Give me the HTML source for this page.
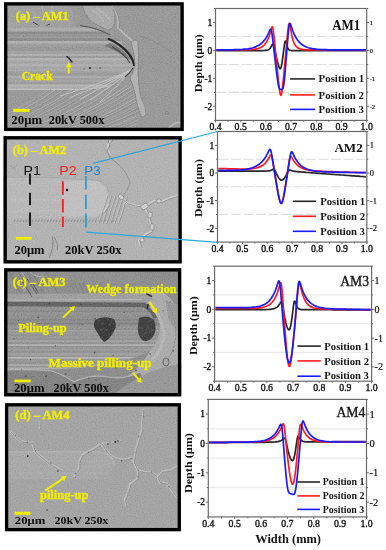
<!DOCTYPE html>
<html><head><meta charset="utf-8"><title>Scratch profiles</title>
<style>html,body{margin:0;padding:0;background:#fff;} svg{display:block;}</style>
</head><body>
<svg width="386" height="550" viewBox="0 0 386 550">
<rect width="386" height="550" fill="#fff"/>
<defs><filter id="nz" x="0" y="0" width="100%" height="100%" color-interpolation-filters="sRGB"><feTurbulence type="fractalNoise" baseFrequency="0.85" numOctaves="2" seed="7"/><feColorMatrix type="matrix" values="0.33 0.33 0.33 0 0 0.33 0.33 0.33 0 0 0.33 0.33 0.33 0 0 0 0 0 0 1"/></filter></defs>
<clipPath id="clipa"><rect x="4.0" y="2.3" width="179.7" height="128.8"/></clipPath>
<g clip-path="url(#clipa)"><rect x="4" y="2" width="180" height="130" fill="#9a9a9a"/><path d="M4,2 L62,2 Q78,10 72,26 L4,26 Z" fill="#a2a2a2"/><path d="M82,5 L112,5 Q116,14 115,22 Q114,28 108,30 Q96,26 90,20 Q84,14 82,5 Z" fill="#ababab" stroke="#828282" stroke-width="0.8"/><path d="M92,10 Q100,14 104,22 M96,8 Q104,12 110,20" fill="none" stroke="#bfbfbf" stroke-width="0.9"/><path d="M112,5 Q120,16 118,28 Q126,36 134,42" fill="none" stroke="#bdbdbd" stroke-width="1.6"/><path d="M113,6 Q121,17 119,29" fill="none" stroke="#7e7e7e" stroke-width="0.6"/><path d="M33,22 L42.4,28 L50,24 M53.3,28.9 L57.2,27" fill="none" stroke="#3a3a3a" stroke-width="1"/><path d="M53,5.6 L45.5,24.2 M42,6 L44,18" fill="none" stroke="#b8b8b8" stroke-width="0.8"/><path d="M140,36 Q155,40 172,52" fill="none" stroke="#8a8a8a" stroke-width="0.6"/><clipPath id="ca-tr"><path d="M4,24.5 L78,26.5 Q104,29 120,40 Q131,51 134,66 Q128,78 112,85 Q96,89 70,89 L4,89 Z"/></clipPath><path d="M4,24.5 L78,26.5 Q104,29 120,40 Q131,51 134,66 Q128,78 112,85 Q96,89 70,89 L4,89 Z" fill="#a3a3a3"/><g clip-path="url(#ca-tr)"><rect x="4" y="24.0" width="132" height="1.3" fill="#afafaf" opacity="1.0"/><rect x="4" y="25.8" width="132" height="1.6" fill="#a1a1a1" opacity="1.0"/><rect x="4" y="27.7" width="132" height="2.6" fill="#adadad" opacity="1.0"/><rect x="4" y="30.3" width="132" height="1.1" fill="#afafaf" opacity="1.0"/><rect x="4" y="31.6" width="132" height="2.8" fill="#8e8e8e" opacity="1.0"/><rect x="4" y="34.7" width="132" height="2.7" fill="#979797" opacity="1.0"/><rect x="4" y="38.0" width="132" height="3.2" fill="#8f8f8f" opacity="1.0"/><rect x="4" y="41.2" width="132" height="2.3" fill="#b3b3b3" opacity="1.0"/><rect x="4" y="43.7" width="132" height="1.5" fill="#9e9e9e" opacity="1.0"/><rect x="4" y="45.3" width="132" height="1.5" fill="#9f9f9f" opacity="1.0"/><rect x="4" y="47.1" width="132" height="1.6" fill="#979797" opacity="1.0"/><rect x="4" y="48.8" width="132" height="2.1" fill="#999999" opacity="1.0"/><rect x="4" y="50.9" width="132" height="3.0" fill="#a4a4a4" opacity="1.0"/><rect x="4" y="54.3" width="132" height="1.4" fill="#b5b5b5" opacity="1.0"/><rect x="4" y="56.2" width="132" height="1.3" fill="#9b9b9b" opacity="1.0"/><rect x="4" y="58.0" width="132" height="2.7" fill="#b3b3b3" opacity="1.0"/><rect x="4" y="60.9" width="132" height="3.0" fill="#a8a8a8" opacity="1.0"/><rect x="4" y="64.1" width="132" height="2.4" fill="#b1b1b1" opacity="1.0"/><rect x="4" y="67.0" width="132" height="2.2" fill="#a5a5a5" opacity="1.0"/><rect x="4" y="69.3" width="132" height="1.6" fill="#adadad" opacity="1.0"/><rect x="4" y="71.1" width="132" height="1.4" fill="#a3a3a3" opacity="1.0"/><rect x="4" y="72.9" width="132" height="2.6" fill="#9c9c9c" opacity="1.0"/><rect x="4" y="75.8" width="132" height="2.2" fill="#adadad" opacity="1.0"/><rect x="4" y="78.3" width="132" height="1.9" fill="#a1a1a1" opacity="1.0"/><rect x="4" y="80.3" width="132" height="1.1" fill="#aaaaaa" opacity="1.0"/><rect x="4" y="82.0" width="132" height="2.4" fill="#9d9d9d" opacity="1.0"/><rect x="4" y="84.5" width="132" height="2.2" fill="#b5b5b5" opacity="1.0"/><rect x="4" y="87.2" width="132" height="2.3" fill="#b0b0b0" opacity="1.0"/></g><clipPath id="ca-lo"><path d="M4,89 L70,89 Q96,89 112,85 Q128,78 134,66 L140,80 L138,132 L4,132 Z"/></clipPath><g clip-path="url(#ca-lo)"><path d="M-39.9,132 Q10.1,118 55.1,86" fill="none" stroke="#b6b6b6" stroke-width="0.7"/><path d="M-38.7,132 Q11.1,118 56.3,86" fill="none" stroke="#7c7c7c" stroke-width="0.5" opacity="0.7"/><path d="M-33.6,132 Q16.4,118 61.4,86" fill="none" stroke="#c8c8c8" stroke-width="0.7"/><path d="M-32.4,132 Q17.4,118 62.6,86" fill="none" stroke="#7c7c7c" stroke-width="0.5" opacity="0.7"/><path d="M-25.4,132 Q24.6,118 69.6,86" fill="none" stroke="#b6b6b6" stroke-width="0.7"/><path d="M-24.2,132 Q25.6,118 70.8,86" fill="none" stroke="#7c7c7c" stroke-width="0.5" opacity="0.7"/><path d="M-17.2,132 Q32.8,118 77.8,86" fill="none" stroke="#bebebe" stroke-width="0.7"/><path d="M-16.0,132 Q33.8,118 79.0,86" fill="none" stroke="#7c7c7c" stroke-width="0.5" opacity="0.7"/><path d="M-12.5,132 Q37.5,118 82.5,86" fill="none" stroke="#b6b6b6" stroke-width="0.7"/><path d="M-11.3,132 Q38.5,118 83.7,86" fill="none" stroke="#7c7c7c" stroke-width="0.5" opacity="0.7"/><path d="M-5.0,132 Q45.0,118 90.0,86" fill="none" stroke="#bebebe" stroke-width="0.7"/><path d="M-3.8,132 Q46.0,118 91.2,86" fill="none" stroke="#7c7c7c" stroke-width="0.5" opacity="0.7"/><path d="M2.1,132 Q52.1,118 97.1,86" fill="none" stroke="#b6b6b6" stroke-width="0.7"/><path d="M3.3,132 Q53.1,118 98.3,86" fill="none" stroke="#7c7c7c" stroke-width="0.5" opacity="0.7"/><path d="M7.8,132 Q57.8,118 102.8,86" fill="none" stroke="#bebebe" stroke-width="0.7"/><path d="M9.0,132 Q58.8,118 104.0,86" fill="none" stroke="#7c7c7c" stroke-width="0.5" opacity="0.7"/><path d="M15.9,132 Q65.9,118 110.9,86" fill="none" stroke="#c8c8c8" stroke-width="0.7"/><path d="M17.1,132 Q66.9,118 112.1,86" fill="none" stroke="#7c7c7c" stroke-width="0.5" opacity="0.7"/><path d="M23.3,132 Q73.3,118 118.3,86" fill="none" stroke="#bebebe" stroke-width="0.7"/><path d="M24.5,132 Q74.3,118 119.5,86" fill="none" stroke="#7c7c7c" stroke-width="0.5" opacity="0.7"/><path d="M31.8,132 Q81.8,118 126.8,86" fill="none" stroke="#c8c8c8" stroke-width="0.7"/><path d="M33.0,132 Q82.8,118 128.0,86" fill="none" stroke="#7c7c7c" stroke-width="0.5" opacity="0.7"/><path d="M36.9,132 Q86.9,118 131.9,86" fill="none" stroke="#c8c8c8" stroke-width="0.7"/><path d="M38.1,132 Q87.9,118 133.1,86" fill="none" stroke="#7c7c7c" stroke-width="0.5" opacity="0.7"/><path d="M43.7,132 Q93.7,118 138.7,86" fill="none" stroke="#bebebe" stroke-width="0.7"/><path d="M44.9,132 Q94.7,118 139.9,86" fill="none" stroke="#7c7c7c" stroke-width="0.5" opacity="0.7"/><path d="M51.2,132 Q101.2,118 146.2,86" fill="none" stroke="#b6b6b6" stroke-width="0.7"/><path d="M52.4,132 Q102.2,118 147.4,86" fill="none" stroke="#7c7c7c" stroke-width="0.5" opacity="0.7"/><path d="M59.1,132 Q109.1,118 154.1,86" fill="none" stroke="#c8c8c8" stroke-width="0.7"/><path d="M60.3,132 Q110.1,118 155.3,86" fill="none" stroke="#7c7c7c" stroke-width="0.5" opacity="0.7"/><path d="M64.8,132 Q114.8,118 159.8,86" fill="none" stroke="#bebebe" stroke-width="0.7"/><path d="M66.0,132 Q115.8,118 161.0,86" fill="none" stroke="#7c7c7c" stroke-width="0.5" opacity="0.7"/><path d="M73.2,132 Q123.2,118 168.2,86" fill="none" stroke="#b6b6b6" stroke-width="0.7"/><path d="M74.4,132 Q124.2,118 169.4,86" fill="none" stroke="#7c7c7c" stroke-width="0.5" opacity="0.7"/><path d="M77.7,132 Q127.7,118 172.7,86" fill="none" stroke="#b6b6b6" stroke-width="0.7"/><path d="M78.9,132 Q128.7,118 173.9,86" fill="none" stroke="#7c7c7c" stroke-width="0.5" opacity="0.7"/><path d="M84.7,132 Q134.7,118 179.7,86" fill="none" stroke="#bebebe" stroke-width="0.7"/><path d="M85.9,132 Q135.7,118 180.9,86" fill="none" stroke="#7c7c7c" stroke-width="0.5" opacity="0.7"/><path d="M94.2,132 Q144.2,118 189.2,86" fill="none" stroke="#c8c8c8" stroke-width="0.7"/><path d="M95.4,132 Q145.2,118 190.4,86" fill="none" stroke="#7c7c7c" stroke-width="0.5" opacity="0.7"/><path d="M98.1,132 Q148.1,118 193.1,86" fill="none" stroke="#b6b6b6" stroke-width="0.7"/><path d="M99.3,132 Q149.1,118 194.3,86" fill="none" stroke="#7c7c7c" stroke-width="0.5" opacity="0.7"/><path d="M105.3,132 Q155.3,118 200.3,86" fill="none" stroke="#bebebe" stroke-width="0.7"/><path d="M106.5,132 Q156.3,118 201.5,86" fill="none" stroke="#7c7c7c" stroke-width="0.5" opacity="0.7"/><path d="M113.8,132 Q163.8,118 208.8,86" fill="none" stroke="#c8c8c8" stroke-width="0.7"/><path d="M115.0,132 Q164.8,118 210.0,86" fill="none" stroke="#7c7c7c" stroke-width="0.5" opacity="0.7"/><path d="M120.0,132 Q170.0,118 215.0,86" fill="none" stroke="#bebebe" stroke-width="0.7"/><path d="M121.2,132 Q171.0,118 216.2,86" fill="none" stroke="#7c7c7c" stroke-width="0.5" opacity="0.7"/><path d="M129.2,132 Q179.2,118 224.2,86" fill="none" stroke="#bebebe" stroke-width="0.7"/><path d="M130.4,132 Q180.2,118 225.4,86" fill="none" stroke="#7c7c7c" stroke-width="0.5" opacity="0.7"/><path d="M134.4,132 Q184.4,118 229.4,86" fill="none" stroke="#bebebe" stroke-width="0.7"/><path d="M135.6,132 Q185.4,118 230.6,86" fill="none" stroke="#7c7c7c" stroke-width="0.5" opacity="0.7"/></g><path d="M60,96.0 Q100,84 131,70" fill="none" stroke="#cfcfcf" stroke-width="0.7"/><path d="M70,97.5 Q105,84 131,70" fill="none" stroke="#cfcfcf" stroke-width="0.7"/><path d="M80,99.0 Q110,84 131,70" fill="none" stroke="#cfcfcf" stroke-width="0.7"/><path d="M90,100.5 Q115,84 131,70" fill="none" stroke="#cfcfcf" stroke-width="0.7"/><path d="M100,102.0 Q120,84 131,70" fill="none" stroke="#cfcfcf" stroke-width="0.7"/><path d="M4,89.5 L70,89.5 Q96,89.5 112,85.5" fill="none" stroke="#c4c4c4" stroke-width="1"/><path d="M80,25.5 Q98,28 110,35" fill="none" stroke="#4a4a4a" stroke-width="0.9"/><path d="M110,43 Q124,49 131,60 Q126,58 114,50 Q108,47 104,46 Z" fill="#5a5a5a" opacity="0.55"/><path d="M108,38.5 Q122,45 129,54 Q134,61 134,66" fill="none" stroke="#262626" stroke-width="2.2"/><path d="M112,47 Q124,53 130,63 M133,68 Q130,73 125,77" fill="none" stroke="#4a4a4a" stroke-width="1.2"/><path d="M131,42 Q135,38 138,42 Q139,56 138,70 Q138,86 141,98 Q146,106 146,114 Q144,119 141,116 Q137,106 135,94 Q133,84 130,78 Q133,72 135,66 Q135,54 131,42 Z" fill="#b3b3b3" stroke="#7c7c7c" stroke-width="0.7"/><circle cx="167" cy="113" r="1.6" fill="none" stroke="#858585" stroke-width="0.7"/><path d="M168,129 Q174,121 182,123" fill="none" stroke="#bcbcbc" stroke-width="1.5"/><path d="M66.5,56.2 L69.5,58.8 L72.3,62.4" fill="none" stroke="#222" stroke-width="1.5"/><circle cx="90" cy="68" r="1.1" fill="#333"/><circle cx="100" cy="68" r="0.8" fill="#444"/><circle cx="84" cy="69" r="0.6" fill="#555"/><text x="15.81" y="19.90" font-family="'Liberation Serif', 'DejaVu Serif', serif" font-weight="bold" font-size="12.8" textLength="52.80" lengthAdjust="spacingAndGlyphs" fill="#f2ee00" stroke="#f2ee00" stroke-width="0.35">(a) – AM1</text><text x="21.63" y="80.20" font-family="'Liberation Serif', 'DejaVu Serif', serif" font-weight="bold" font-size="12.5" textLength="31.02" lengthAdjust="spacingAndGlyphs" fill="#f2ee00" stroke="#f2ee00" stroke-width="0.35">Crack</text><line x1="68.8" y1="73.6" x2="68.8" y2="67.2" stroke="#f2ee00" stroke-width="2.0"/><polygon points="68.8,62.2 71.7,67.2 65.9,67.2" fill="#f2ee00"/><rect x="13.2" y="108.8" width="16.4" height="3.1" fill="#f2ee00"/><text x="11.39" y="124.00" font-family="'Liberation Serif', 'DejaVu Serif', serif" font-weight="bold" font-size="11.8" textLength="30.68" lengthAdjust="spacingAndGlyphs" fill="#0a0a0a" >20μm</text><text x="48.71" y="124.00" font-family="'Liberation Serif', 'DejaVu Serif', serif" font-weight="bold" font-size="11.8" textLength="55.69" lengthAdjust="spacingAndGlyphs" fill="#0a0a0a" >20kV 500x</text></g>
<rect x="4.0" y="2.3" width="179.7" height="128.8" filter="url(#nz)" style="mix-blend-mode:soft-light" opacity="0.55"/>
<clipPath id="clipb"><rect x="3.5" y="136.1" width="178.2" height="127.3"/></clipPath>
<g clip-path="url(#clipb)"><rect x="3" y="136" width="180" height="128" fill="#b3b3b3"/><path d="M3,177 L60,178 Q80,179.5 96,180 Q108,182 110,198 Q109,214 96,218 L3,219 Z" fill="#b9b9b9"/><clipPath id="cb-tr"><path d="M3,177 L60,178 Q80,179.5 96,180 Q108,182 110,198 Q109,214 96,218 L3,219 Z"/></clipPath><g clip-path="url(#cb-tr)"><rect x="3" y="178.0" width="109" height="1.2" fill="#c1c1c1" opacity="0.7"/><rect x="3" y="181.3" width="109" height="0.6" fill="#bfbfbf" opacity="0.7"/><rect x="3" y="186.1" width="109" height="1.0" fill="#b6b6b6" opacity="0.7"/><rect x="3" y="190.9" width="109" height="0.9" fill="#bbbbbb" opacity="0.7"/><rect x="3" y="194.3" width="109" height="0.8" fill="#b8b8b8" opacity="0.7"/><rect x="3" y="199.3" width="109" height="1.2" fill="#c1c1c1" opacity="0.7"/><rect x="3" y="204.1" width="109" height="0.8" fill="#b6b6b6" opacity="0.7"/><rect x="3" y="207.0" width="109" height="0.5" fill="#b9b9b9" opacity="0.7"/><rect x="3" y="210.5" width="109" height="0.8" fill="#c0c0c0" opacity="0.7"/><rect x="3" y="214.8" width="109" height="0.9" fill="#b5b5b5" opacity="0.7"/><rect x="3" y="217.8" width="109" height="0.7" fill="#b4b4b4" opacity="0.7"/></g><path d="M62,181 Q82,180 98,181 Q107,184 108,198 Q107,212 96,216 L62,216 Z" fill="#c3c3c3" opacity="0.8"/><path d="M3,177 L60,178 Q80,179.5 96,180 Q108,182 110,198 Q109,214 96,218" fill="none" stroke="#a6a6a6" stroke-width="0.8"/><line x1="14.0" y1="222" x2="15.4" y2="219.5" stroke="#7a7a7a" stroke-width="0.6"/><line x1="17.0" y1="222" x2="18.4" y2="219.5" stroke="#7a7a7a" stroke-width="0.6"/><line x1="20.0" y1="222" x2="21.4" y2="219.5" stroke="#7a7a7a" stroke-width="0.6"/><line x1="23.0" y1="222" x2="24.4" y2="219.5" stroke="#7a7a7a" stroke-width="0.6"/><line x1="26.0" y1="222" x2="27.4" y2="219.5" stroke="#7a7a7a" stroke-width="0.6"/><line x1="29.0" y1="222" x2="30.4" y2="219.5" stroke="#7a7a7a" stroke-width="0.6"/><line x1="32.0" y1="222" x2="33.4" y2="219.5" stroke="#7a7a7a" stroke-width="0.6"/><line x1="35.0" y1="222" x2="36.4" y2="219.5" stroke="#7a7a7a" stroke-width="0.6"/><line x1="38.0" y1="222" x2="39.4" y2="219.5" stroke="#7a7a7a" stroke-width="0.6"/><line x1="41.0" y1="222" x2="42.4" y2="219.5" stroke="#7a7a7a" stroke-width="0.6"/><line x1="44.0" y1="222" x2="45.4" y2="219.5" stroke="#7a7a7a" stroke-width="0.6"/><line x1="47.0" y1="222" x2="48.4" y2="219.5" stroke="#7a7a7a" stroke-width="0.6"/><line x1="50.0" y1="222" x2="51.4" y2="219.5" stroke="#7a7a7a" stroke-width="0.6"/><line x1="53.0" y1="222" x2="54.4" y2="219.5" stroke="#7a7a7a" stroke-width="0.6"/><line x1="56.0" y1="222" x2="57.4" y2="219.5" stroke="#7a7a7a" stroke-width="0.6"/><line x1="59.0" y1="222" x2="60.4" y2="219.5" stroke="#7a7a7a" stroke-width="0.6"/><line x1="62.0" y1="222" x2="63.4" y2="219.5" stroke="#7a7a7a" stroke-width="0.6"/><line x1="65.0" y1="222" x2="66.4" y2="219.5" stroke="#7a7a7a" stroke-width="0.6"/><line x1="68.0" y1="222" x2="69.4" y2="219.5" stroke="#7a7a7a" stroke-width="0.6"/><line x1="71.0" y1="222" x2="72.4" y2="219.5" stroke="#7a7a7a" stroke-width="0.6"/><line x1="74.0" y1="222" x2="75.4" y2="219.5" stroke="#7a7a7a" stroke-width="0.6"/><line x1="77.0" y1="222" x2="78.4" y2="219.5" stroke="#7a7a7a" stroke-width="0.6"/><line x1="80.0" y1="222" x2="81.4" y2="219.5" stroke="#7a7a7a" stroke-width="0.6"/><line x1="83.0" y1="222" x2="84.4" y2="219.5" stroke="#7a7a7a" stroke-width="0.6"/><line x1="86.0" y1="222" x2="87.4" y2="219.5" stroke="#7a7a7a" stroke-width="0.6"/><line x1="89.0" y1="222" x2="90.4" y2="219.5" stroke="#7a7a7a" stroke-width="0.6"/><line x1="92.0" y1="222" x2="93.4" y2="219.5" stroke="#7a7a7a" stroke-width="0.6"/><line x1="95.0" y1="222" x2="96.4" y2="219.5" stroke="#7a7a7a" stroke-width="0.6"/><line x1="98.0" y1="222" x2="99.4" y2="219.5" stroke="#7a7a7a" stroke-width="0.6"/><line x1="101.0" y1="222" x2="102.4" y2="219.5" stroke="#7a7a7a" stroke-width="0.6"/><line x1="104.0" y1="222" x2="105.4" y2="219.5" stroke="#7a7a7a" stroke-width="0.6"/><line x1="107.0" y1="222" x2="108.4" y2="219.5" stroke="#7a7a7a" stroke-width="0.6"/><line x1="110.0" y1="222" x2="111.4" y2="219.5" stroke="#7a7a7a" stroke-width="0.6"/><line x1="113.0" y1="222" x2="114.4" y2="219.5" stroke="#7a7a7a" stroke-width="0.6"/><line x1="98" y1="224" x2="107" y2="196" stroke="#c8c8c8" stroke-width="0.8"/><line x1="99" y1="224" x2="108" y2="196" stroke="#858585" stroke-width="0.6"/><line x1="102" y1="224" x2="111" y2="196" stroke="#c8c8c8" stroke-width="0.8"/><line x1="103" y1="224" x2="112" y2="196" stroke="#858585" stroke-width="0.6"/><line x1="106" y1="224" x2="115" y2="196" stroke="#c8c8c8" stroke-width="0.8"/><line x1="107" y1="224" x2="116" y2="196" stroke="#858585" stroke-width="0.6"/><line x1="110" y1="224" x2="119" y2="196" stroke="#c8c8c8" stroke-width="0.8"/><line x1="111" y1="224" x2="120" y2="196" stroke="#858585" stroke-width="0.6"/><line x1="114" y1="224" x2="123" y2="196" stroke="#c8c8c8" stroke-width="0.8"/><line x1="115" y1="224" x2="124" y2="196" stroke="#858585" stroke-width="0.6"/><line x1="118" y1="224" x2="127" y2="196" stroke="#c8c8c8" stroke-width="0.8"/><line x1="119" y1="224" x2="128" y2="196" stroke="#858585" stroke-width="0.6"/><path d="M113,140 Q104,148 110,158 Q126,168 130,182 Q128,192 121,197" fill="none" stroke="#8c8c8c" stroke-width="0.8"/><path d="M110,141 Q105,150 111,156" fill="none" stroke="#d2d2d2" stroke-width="1.6"/><path d="M108,140 L110,146 L107,151 L111,157" fill="none" stroke="#7a7a7a" stroke-width="0.7"/><path d="M120,197 L127,203 Q134,206 139,206 L145,207 L154,201 L161,202 Q168,198 180,195 M145,207 L149,215 L151,224 L152,231 L145,235 L139,240 L141,246 M109,204 L104,212" fill="none" stroke="#cdcdcd" stroke-width="2.2" stroke-linejoin="round"/><path d="M120,197 L127,203 Q134,206 139,206 L145,207 L154,201 L161,202 Q168,198 180,195 M145,207 L149,215 L151,224 L152,231 L145,235 L139,240 L141,246 M109,204 L104,212" fill="none" stroke="#707070" stroke-width="0.6" transform="translate(0.8,0.6)"/><rect x="118" y="195" width="6" height="4" rx="1.5" fill="#d0d0d0" stroke="#7c7c7c" stroke-width="0.6" transform="rotate(40 121.0 197.0)"/><rect x="141" y="204" width="7" height="5" rx="1.5" fill="#d0d0d0" stroke="#7c7c7c" stroke-width="0.6" transform="rotate(-30 144.5 206.5)"/><rect x="148" y="212" width="4" height="6" rx="1.5" fill="#d0d0d0" stroke="#7c7c7c" stroke-width="0.6" transform="rotate(10 150.0 215.0)"/><rect x="150" y="224" width="4" height="6" rx="1.5" fill="#d0d0d0" stroke="#7c7c7c" stroke-width="0.6" transform="rotate(0 152.0 227.0)"/><rect x="157" y="199" width="4" height="4" rx="1.5" fill="#d0d0d0" stroke="#7c7c7c" stroke-width="0.6" transform="rotate(0 159.0 201.0)"/><rect x="140" y="238" width="4" height="4" rx="1.5" fill="#d0d0d0" stroke="#7c7c7c" stroke-width="0.6" transform="rotate(0 142.0 240.0)"/><path d="M52,236 Q55,246 49,258 M54,237 Q59,244 57,250" fill="none" stroke="#7c7c7c" stroke-width="0.8"/><path d="M10,165 L16,170 M12,170 L17,165" stroke="#999" stroke-width="0.6"/><circle cx="67" cy="190" r="1.2" fill="#111"/><text x="12.81" y="153.70" font-family="'Liberation Serif', 'DejaVu Serif', serif" font-weight="bold" font-size="12.0" textLength="53.47" lengthAdjust="spacingAndGlyphs" fill="#f2ee00" stroke="#f2ee00" stroke-width="0.35">(b) – AM2</text><text x="23.47" y="174.50" font-family="'Liberation Sans', 'DejaVu Sans', sans-serif" font-weight="normal" font-size="12.8" textLength="17.28" lengthAdjust="spacingAndGlyphs" fill="#111" >P1</text><text x="59.26" y="174.50" font-family="'Liberation Sans', 'DejaVu Sans', sans-serif" font-weight="normal" font-size="12.8" textLength="17.39" lengthAdjust="spacingAndGlyphs" fill="#ff1f1f" >P2</text><text x="84.33" y="174.50" font-family="'Liberation Sans', 'DejaVu Sans', sans-serif" font-weight="normal" font-size="12.8" textLength="16.35" lengthAdjust="spacingAndGlyphs" fill="#1f86cc" >P3</text><line x1="30.0" y1="173.5" x2="30.0" y2="184.4" stroke="#111" stroke-width="1.9"/><line x1="30.0" y1="192.7" x2="30.0" y2="205.2" stroke="#111" stroke-width="1.9"/><line x1="30.0" y1="212.4" x2="30.0" y2="225.9" stroke="#111" stroke-width="1.9"/><line x1="62.9" y1="181.3" x2="62.9" y2="194.8" stroke="#ff1f1f" stroke-width="1.9"/><line x1="62.9" y1="198.9" x2="62.9" y2="212.4" stroke="#ff1f1f" stroke-width="1.9"/><line x1="62.9" y1="216.6" x2="62.9" y2="226.9" stroke="#ff1f1f" stroke-width="1.9"/><line x1="85.9" y1="176.1" x2="85.9" y2="189.6" stroke="#29a3dc" stroke-width="1.9"/><line x1="85.9" y1="194.8" x2="85.9" y2="209.3" stroke="#29a3dc" stroke-width="1.9"/><line x1="85.9" y1="213.5" x2="85.9" y2="227.5" stroke="#29a3dc" stroke-width="1.9"/><rect x="15.8" y="237.0" width="16.0" height="2.7" fill="#f2ee00"/><text x="14.40" y="253.50" font-family="'Liberation Serif', 'DejaVu Serif', serif" font-weight="bold" font-size="11.8" textLength="30.06" lengthAdjust="spacingAndGlyphs" fill="#0a0a0a" >20μm</text><text x="65.00" y="253.50" font-family="'Liberation Serif', 'DejaVu Serif', serif" font-weight="bold" font-size="11.8" textLength="56.50" lengthAdjust="spacingAndGlyphs" fill="#0a0a0a" >20kV 250x</text></g>
<rect x="3.5" y="136.1" width="178.2" height="127.3" filter="url(#nz)" style="mix-blend-mode:soft-light" opacity="0.55"/>
<clipPath id="clipc"><rect x="4.1" y="268.3" width="177.1" height="128.1"/></clipPath>
<g clip-path="url(#clipc)"><rect x="4" y="268" width="178" height="129" fill="#8f8f8f"/><line x1="3.5" y1="270" x2="17.5" y2="296" stroke="#a0a0a0" stroke-width="0.6" opacity="0.8"/><line x1="8.2" y1="270" x2="22.2" y2="296" stroke="#737373" stroke-width="0.6" opacity="0.8"/><line x1="13.3" y1="270" x2="27.3" y2="296" stroke="#969696" stroke-width="0.6" opacity="0.8"/><line x1="17.7" y1="270" x2="31.7" y2="296" stroke="#737373" stroke-width="0.6" opacity="0.8"/><line x1="21.5" y1="270" x2="35.5" y2="296" stroke="#a0a0a0" stroke-width="0.6" opacity="0.8"/><line x1="25.9" y1="270" x2="39.9" y2="296" stroke="#737373" stroke-width="0.6" opacity="0.8"/><line x1="31.1" y1="270" x2="45.1" y2="296" stroke="#737373" stroke-width="0.6" opacity="0.8"/><line x1="35.3" y1="270" x2="49.3" y2="296" stroke="#a0a0a0" stroke-width="0.6" opacity="0.8"/><line x1="39.5" y1="270" x2="53.5" y2="296" stroke="#a0a0a0" stroke-width="0.6" opacity="0.8"/><line x1="45.2" y1="270" x2="59.2" y2="296" stroke="#737373" stroke-width="0.6" opacity="0.8"/><line x1="49.5" y1="270" x2="63.5" y2="296" stroke="#969696" stroke-width="0.6" opacity="0.8"/><line x1="52.8" y1="270" x2="66.8" y2="296" stroke="#969696" stroke-width="0.6" opacity="0.8"/><line x1="57.6" y1="270" x2="71.6" y2="296" stroke="#969696" stroke-width="0.6" opacity="0.8"/><line x1="63.1" y1="270" x2="77.1" y2="296" stroke="#787878" stroke-width="0.6" opacity="0.8"/><line x1="66.9" y1="270" x2="80.9" y2="296" stroke="#737373" stroke-width="0.6" opacity="0.8"/><line x1="71.9" y1="270" x2="85.9" y2="296" stroke="#737373" stroke-width="0.6" opacity="0.8"/><line x1="75.8" y1="270" x2="89.8" y2="296" stroke="#737373" stroke-width="0.6" opacity="0.8"/><line x1="81.4" y1="270" x2="95.4" y2="296" stroke="#a0a0a0" stroke-width="0.6" opacity="0.8"/><line x1="85.8" y1="270" x2="99.8" y2="296" stroke="#969696" stroke-width="0.6" opacity="0.8"/><line x1="88.6" y1="270" x2="102.6" y2="296" stroke="#737373" stroke-width="0.6" opacity="0.8"/><line x1="93.4" y1="270" x2="107.4" y2="296" stroke="#737373" stroke-width="0.6" opacity="0.8"/><line x1="99.1" y1="270" x2="113.1" y2="296" stroke="#787878" stroke-width="0.6" opacity="0.8"/><path d="M20,270 Q30,282 24,292 M30,272 Q36,278 44,276" fill="none" stroke="#b0b0b0" stroke-width="1"/><rect x="60" y="271" width="80" height="12" fill="#959595" opacity="0.6"/><path d="M136,290 Q160,286 172,300 Q184,320 182,350 Q178,372 160,380 Q140,384 128,376 Q150,360 158,330 Q156,304 136,296 Z" fill="#acacac"/><path d="M166,300 Q176,306 182,304 L182,336 Q174,330 168,318 Z" fill="#9a9a9a"/><path d="M4,370 Q30,369 52,371 Q66,376 74,382 Q90,374 108,377 Q124,380 140,372 L150,396 L4,396 Z" fill="#858585"/><path d="M112,396 Q128,382 150,372 Q165,366 182,364 L182,396 Z" fill="#999999"/><path d="M4,294 L140,293 Q150,295 154,300 L146,302 L4,301 Z" fill="#a0a0a0"/><path d="M22,281 L32,297 M27,279 L37,294 M32,283 L38,292" stroke="#505050" stroke-width="0.9" opacity="0.8"/><clipPath id="cc-tr"><path d="M4,301 L146,302 Q157,309 160,326 Q159,344 148,352 Q128,362 90,367 Q60,370 4,370 Z"/></clipPath><path d="M4,301 L146,302 Q157,309 160,326 Q159,344 148,352 Q128,362 90,367 Q60,370 4,370 Z" fill="#949494"/><g clip-path="url(#cc-tr)"><rect x="4" y="307.0" width="158" height="1.4" fill="#979797" opacity="1.0"/><rect x="4" y="310.5" width="158" height="1.5" fill="#8b8b8b" opacity="1.0"/><rect x="4" y="313.3" width="158" height="1.3" fill="#999999" opacity="1.0"/><rect x="4" y="315.4" width="158" height="1.2" fill="#909090" opacity="1.0"/><rect x="4" y="319.0" width="158" height="1.8" fill="#898989" opacity="1.0"/><rect x="4" y="322.7" width="158" height="1.6" fill="#828282" opacity="1.0"/><rect x="4" y="326.6" width="158" height="1.7" fill="#9b9b9b" opacity="1.0"/><rect x="4" y="329.7" width="158" height="1.0" fill="#8d8d8d" opacity="1.0"/><rect x="4" y="330.0" width="158" height="1.6" fill="#a3a3a3" opacity="1.0"/><rect x="4" y="332.5" width="158" height="2.2" fill="#9a9a9a" opacity="1.0"/><rect x="4" y="336.5" width="158" height="1.5" fill="#9d9d9d" opacity="1.0"/><rect x="4" y="340.1" width="158" height="2.0" fill="#a4a4a4" opacity="1.0"/><rect x="4" y="344.2" width="158" height="1.7" fill="#b3b3b3" opacity="1.0"/><rect x="4" y="347.3" width="158" height="1.2" fill="#9b9b9b" opacity="1.0"/><rect x="4" y="349.3" width="158" height="1.0" fill="#a8a8a8" opacity="1.0"/><rect x="4" y="353.1" width="158" height="2.4" fill="#a2a2a2" opacity="1.0"/><rect x="4" y="356.9" width="158" height="1.9" fill="#b5b5b5" opacity="1.0"/><rect x="4" y="360.3" width="158" height="1.4" fill="#9d9d9d" opacity="1.0"/><rect x="4" y="364.4" width="158" height="1.4" fill="#b2b2b2" opacity="1.0"/><rect x="4" y="367.5" width="158" height="2.2" fill="#adadad" opacity="1.0"/><rect x="4" y="370.7" width="158" height="2.4" fill="#b0b0b0" opacity="1.0"/><line x1="4" y1="330" x2="22" y2="302" stroke="#767676" stroke-width="0.4" opacity="0.5"/><line x1="8" y1="330" x2="26" y2="302" stroke="#767676" stroke-width="0.4" opacity="0.5"/><line x1="12" y1="330" x2="30" y2="302" stroke="#767676" stroke-width="0.4" opacity="0.5"/><line x1="16" y1="330" x2="34" y2="302" stroke="#767676" stroke-width="0.4" opacity="0.5"/><line x1="20" y1="330" x2="38" y2="302" stroke="#767676" stroke-width="0.4" opacity="0.5"/><line x1="24" y1="330" x2="42" y2="302" stroke="#767676" stroke-width="0.4" opacity="0.5"/><line x1="28" y1="330" x2="46" y2="302" stroke="#767676" stroke-width="0.4" opacity="0.5"/><line x1="32" y1="330" x2="50" y2="302" stroke="#767676" stroke-width="0.4" opacity="0.5"/><line x1="36" y1="330" x2="54" y2="302" stroke="#767676" stroke-width="0.4" opacity="0.5"/><line x1="40" y1="330" x2="58" y2="302" stroke="#767676" stroke-width="0.4" opacity="0.5"/><line x1="44" y1="330" x2="62" y2="302" stroke="#767676" stroke-width="0.4" opacity="0.5"/><line x1="48" y1="330" x2="66" y2="302" stroke="#767676" stroke-width="0.4" opacity="0.5"/><line x1="52" y1="330" x2="70" y2="302" stroke="#767676" stroke-width="0.4" opacity="0.5"/><line x1="56" y1="330" x2="74" y2="302" stroke="#767676" stroke-width="0.4" opacity="0.5"/><line x1="60" y1="330" x2="78" y2="302" stroke="#767676" stroke-width="0.4" opacity="0.5"/><line x1="64" y1="330" x2="82" y2="302" stroke="#767676" stroke-width="0.4" opacity="0.5"/><line x1="68" y1="330" x2="86" y2="302" stroke="#767676" stroke-width="0.4" opacity="0.5"/><line x1="72" y1="330" x2="90" y2="302" stroke="#767676" stroke-width="0.4" opacity="0.5"/><line x1="76" y1="330" x2="94" y2="302" stroke="#767676" stroke-width="0.4" opacity="0.5"/><line x1="80" y1="330" x2="98" y2="302" stroke="#767676" stroke-width="0.4" opacity="0.5"/><line x1="84" y1="330" x2="102" y2="302" stroke="#767676" stroke-width="0.4" opacity="0.5"/><line x1="88" y1="330" x2="106" y2="302" stroke="#767676" stroke-width="0.4" opacity="0.5"/><line x1="92" y1="330" x2="110" y2="302" stroke="#767676" stroke-width="0.4" opacity="0.5"/><line x1="96" y1="330" x2="114" y2="302" stroke="#767676" stroke-width="0.4" opacity="0.5"/><line x1="100" y1="330" x2="118" y2="302" stroke="#767676" stroke-width="0.4" opacity="0.5"/><line x1="104" y1="330" x2="122" y2="302" stroke="#767676" stroke-width="0.4" opacity="0.5"/><line x1="108" y1="330" x2="126" y2="302" stroke="#767676" stroke-width="0.4" opacity="0.5"/><line x1="112" y1="330" x2="130" y2="302" stroke="#767676" stroke-width="0.4" opacity="0.5"/><line x1="116" y1="330" x2="134" y2="302" stroke="#767676" stroke-width="0.4" opacity="0.5"/><line x1="120" y1="330" x2="138" y2="302" stroke="#767676" stroke-width="0.4" opacity="0.5"/><line x1="124" y1="330" x2="142" y2="302" stroke="#767676" stroke-width="0.4" opacity="0.5"/><line x1="128" y1="330" x2="146" y2="302" stroke="#767676" stroke-width="0.4" opacity="0.5"/><line x1="132" y1="330" x2="150" y2="302" stroke="#767676" stroke-width="0.4" opacity="0.5"/><line x1="136" y1="330" x2="154" y2="302" stroke="#767676" stroke-width="0.4" opacity="0.5"/><line x1="140" y1="330" x2="158" y2="302" stroke="#767676" stroke-width="0.4" opacity="0.5"/><line x1="144" y1="330" x2="162" y2="302" stroke="#767676" stroke-width="0.4" opacity="0.5"/><line x1="148" y1="330" x2="166" y2="302" stroke="#767676" stroke-width="0.4" opacity="0.5"/><line x1="152" y1="330" x2="170" y2="302" stroke="#767676" stroke-width="0.4" opacity="0.5"/><line x1="156" y1="330" x2="174" y2="302" stroke="#767676" stroke-width="0.4" opacity="0.5"/><line x1="160" y1="330" x2="178" y2="302" stroke="#767676" stroke-width="0.4" opacity="0.5"/></g><path d="M4,304 L144,305 Q152,309 156,318" fill="none" stroke="#666" stroke-width="4.6"/><path d="M4,300.3 L142,299.5" fill="none" stroke="#bdbdbd" stroke-width="0.8"/><path d="M4,370 Q30,369 52,371 Q66,376 74,382 Q90,374 108,377 Q124,380 140,372" fill="none" stroke="#b4b4b4" stroke-width="1.2"/><circle cx="115.8" cy="367.3" r="0.9" fill="#3a3a3a" opacity="0.7"/><circle cx="82.4" cy="324.3" r="0.6" fill="#3a3a3a" opacity="0.7"/><circle cx="65.6" cy="374.1" r="0.9" fill="#3a3a3a" opacity="0.7"/><circle cx="61.5" cy="335.4" r="0.7" fill="#3a3a3a" opacity="0.7"/><circle cx="30.7" cy="359.6" r="0.6" fill="#3a3a3a" opacity="0.7"/><circle cx="68.0" cy="386.2" r="0.7" fill="#3a3a3a" opacity="0.7"/><circle cx="55.4" cy="346.0" r="0.7" fill="#3a3a3a" opacity="0.7"/><circle cx="170.3" cy="302.0" r="0.6" fill="#3a3a3a" opacity="0.7"/><circle cx="114.8" cy="328.1" r="0.7" fill="#3a3a3a" opacity="0.7"/><circle cx="38.2" cy="317.4" r="0.8" fill="#3a3a3a" opacity="0.7"/><circle cx="151.5" cy="324.8" r="0.8" fill="#3a3a3a" opacity="0.7"/><circle cx="25.8" cy="376.4" r="0.9" fill="#3a3a3a" opacity="0.7"/><circle cx="124.2" cy="312.4" r="0.7" fill="#3a3a3a" opacity="0.7"/><circle cx="119.1" cy="325.3" r="0.6" fill="#3a3a3a" opacity="0.7"/><circle cx="123.3" cy="361.1" r="0.4" fill="#3a3a3a" opacity="0.7"/><circle cx="110.1" cy="389.2" r="0.7" fill="#3a3a3a" opacity="0.7"/><circle cx="46.2" cy="376.1" r="0.9" fill="#3a3a3a" opacity="0.7"/><circle cx="21.6" cy="369.8" r="0.5" fill="#3a3a3a" opacity="0.7"/><circle cx="104.6" cy="325.4" r="0.8" fill="#3a3a3a" opacity="0.7"/><circle cx="13.8" cy="390.0" r="0.6" fill="#3a3a3a" opacity="0.7"/><circle cx="150.2" cy="354.0" r="0.8" fill="#3a3a3a" opacity="0.7"/><circle cx="65.8" cy="377.8" r="0.4" fill="#3a3a3a" opacity="0.7"/><circle cx="113.3" cy="355.4" r="0.6" fill="#3a3a3a" opacity="0.7"/><circle cx="96.1" cy="379.9" r="0.6" fill="#3a3a3a" opacity="0.7"/><circle cx="115.8" cy="327.3" r="0.7" fill="#3a3a3a" opacity="0.7"/><circle cx="14.0" cy="338.8" r="0.5" fill="#3a3a3a" opacity="0.7"/><circle cx="89.1" cy="378.3" r="0.7" fill="#3a3a3a" opacity="0.7"/><circle cx="94.7" cy="352.5" r="0.9" fill="#3a3a3a" opacity="0.7"/><circle cx="129.9" cy="303.0" r="0.6" fill="#3a3a3a" opacity="0.7"/><circle cx="136.1" cy="370.3" r="0.9" fill="#3a3a3a" opacity="0.7"/><circle cx="100.5" cy="383.6" r="0.8" fill="#3a3a3a" opacity="0.7"/><circle cx="153.9" cy="391.3" r="0.5" fill="#3a3a3a" opacity="0.7"/><circle cx="49.6" cy="303.3" r="0.8" fill="#3a3a3a" opacity="0.7"/><circle cx="95.1" cy="318.7" r="0.8" fill="#3a3a3a" opacity="0.7"/><circle cx="81.1" cy="304.6" r="0.6" fill="#3a3a3a" opacity="0.7"/><circle cx="28.5" cy="347.3" r="0.5" fill="#3a3a3a" opacity="0.7"/><circle cx="11.4" cy="350.5" r="0.4" fill="#3a3a3a" opacity="0.7"/><circle cx="163.2" cy="310.7" r="0.5" fill="#3a3a3a" opacity="0.7"/><circle cx="173.2" cy="350.9" r="0.8" fill="#3a3a3a" opacity="0.7"/><circle cx="18.4" cy="320.8" r="0.5" fill="#3a3a3a" opacity="0.7"/><path d="M95,320 Q104,315 114,319 Q118,325 113,333 Q108,341 104,342 Q100,338 97,332 Q92,326 95,320 Z" fill="#3c3c3c"/><path d="M139,318 Q148,314 154,320 Q158,330 152,338 Q147,343 142,340 Q137,334 138,326 Z" fill="#424242"/><circle cx="112.0" cy="321.3" r="0.7" fill="#6a6a6a" opacity="0.35"/><circle cx="142.8" cy="336.7" r="0.6" fill="#6a6a6a" opacity="0.35"/><circle cx="112.6" cy="328.3" r="0.9" fill="#6a6a6a" opacity="0.35"/><circle cx="144.6" cy="333.9" r="0.7" fill="#6a6a6a" opacity="0.35"/><circle cx="107.1" cy="328.9" r="0.5" fill="#6a6a6a" opacity="0.35"/><circle cx="143.5" cy="335.2" r="1.1" fill="#6a6a6a" opacity="0.35"/><circle cx="110.0" cy="319.9" r="0.5" fill="#6a6a6a" opacity="0.35"/><circle cx="145.8" cy="318.7" r="1.0" fill="#6a6a6a" opacity="0.35"/><circle cx="105.3" cy="328.3" r="0.6" fill="#6a6a6a" opacity="0.35"/><circle cx="140.0" cy="326.1" r="0.8" fill="#6a6a6a" opacity="0.35"/><circle cx="101.5" cy="324.0" r="1.2" fill="#6a6a6a" opacity="0.35"/><circle cx="145.0" cy="320.7" r="0.5" fill="#6a6a6a" opacity="0.35"/><circle cx="109.0" cy="334.1" r="0.9" fill="#6a6a6a" opacity="0.35"/><circle cx="139.6" cy="327.7" r="1.0" fill="#6a6a6a" opacity="0.35"/><circle cx="105.7" cy="331.1" r="0.5" fill="#6a6a6a" opacity="0.35"/><circle cx="151.4" cy="319.1" r="0.9" fill="#6a6a6a" opacity="0.35"/><circle cx="109.7" cy="325.0" r="1.2" fill="#6a6a6a" opacity="0.35"/><circle cx="144.9" cy="318.4" r="0.7" fill="#6a6a6a" opacity="0.35"/><circle cx="100.9" cy="330.2" r="1.1" fill="#6a6a6a" opacity="0.35"/><circle cx="142.1" cy="320.7" r="0.5" fill="#6a6a6a" opacity="0.35"/><circle cx="101.9" cy="337.4" r="0.9" fill="#6a6a6a" opacity="0.35"/><circle cx="151.2" cy="320.6" r="1.0" fill="#6a6a6a" opacity="0.35"/><circle cx="112.9" cy="332.9" r="1.1" fill="#6a6a6a" opacity="0.35"/><circle cx="146.4" cy="325.9" r="0.6" fill="#6a6a6a" opacity="0.35"/><circle cx="101.7" cy="329.1" r="1.1" fill="#6a6a6a" opacity="0.35"/><circle cx="149.0" cy="327.9" r="0.7" fill="#6a6a6a" opacity="0.35"/><circle cx="103.0" cy="329.0" r="0.9" fill="#6a6a6a" opacity="0.35"/><circle cx="148.2" cy="325.9" r="1.1" fill="#6a6a6a" opacity="0.35"/><circle cx="102.1" cy="335.2" r="0.5" fill="#6a6a6a" opacity="0.35"/><circle cx="140.6" cy="328.1" r="1.0" fill="#6a6a6a" opacity="0.35"/><circle cx="101.1" cy="324.7" r="0.6" fill="#6a6a6a" opacity="0.35"/><circle cx="152.9" cy="329.8" r="0.9" fill="#6a6a6a" opacity="0.35"/><circle cx="100.3" cy="329.5" r="0.6" fill="#6a6a6a" opacity="0.35"/><circle cx="146.7" cy="329.6" r="1.1" fill="#6a6a6a" opacity="0.35"/><circle cx="99.2" cy="320.5" r="1.2" fill="#6a6a6a" opacity="0.35"/><circle cx="148.0" cy="327.5" r="1.0" fill="#6a6a6a" opacity="0.35"/><circle cx="113.0" cy="323.8" r="0.9" fill="#6a6a6a" opacity="0.35"/><circle cx="152.1" cy="329.7" r="1.2" fill="#6a6a6a" opacity="0.35"/><circle cx="102.8" cy="323.5" r="1.2" fill="#6a6a6a" opacity="0.35"/><circle cx="150.8" cy="338.3" r="0.8" fill="#6a6a6a" opacity="0.35"/><circle cx="106.2" cy="330.0" r="1.1" fill="#6a6a6a" opacity="0.35"/><circle cx="148.6" cy="321.3" r="0.8" fill="#6a6a6a" opacity="0.35"/><circle cx="112.0" cy="322.1" r="0.8" fill="#6a6a6a" opacity="0.35"/><circle cx="145.8" cy="332.7" r="1.2" fill="#6a6a6a" opacity="0.35"/><circle cx="106.6" cy="335.3" r="0.6" fill="#6a6a6a" opacity="0.35"/><circle cx="149.5" cy="321.1" r="0.9" fill="#6a6a6a" opacity="0.35"/><circle cx="112.8" cy="335.2" r="0.9" fill="#6a6a6a" opacity="0.35"/><circle cx="149.9" cy="332.1" r="1.1" fill="#6a6a6a" opacity="0.35"/><circle cx="106.7" cy="330.1" r="1.2" fill="#6a6a6a" opacity="0.35"/><circle cx="151.5" cy="324.5" r="0.7" fill="#6a6a6a" opacity="0.35"/><circle cx="110.5" cy="322.8" r="0.9" fill="#6a6a6a" opacity="0.35"/><circle cx="142.3" cy="328.1" r="1.1" fill="#6a6a6a" opacity="0.35"/><circle cx="103.5" cy="332.3" r="1.0" fill="#6a6a6a" opacity="0.35"/><circle cx="141.9" cy="330.2" r="1.1" fill="#6a6a6a" opacity="0.35"/><circle cx="107.7" cy="319.5" r="1.2" fill="#6a6a6a" opacity="0.35"/><circle cx="140.0" cy="337.9" r="1.0" fill="#6a6a6a" opacity="0.35"/><circle cx="111.9" cy="319.9" r="1.1" fill="#6a6a6a" opacity="0.35"/><circle cx="151.5" cy="331.6" r="1.0" fill="#6a6a6a" opacity="0.35"/><circle cx="97.2" cy="323.1" r="0.7" fill="#6a6a6a" opacity="0.35"/><circle cx="151.5" cy="334.3" r="0.6" fill="#6a6a6a" opacity="0.35"/><path d="M150,306 Q162,316 164,334 Q163,350 152,360" fill="none" stroke="#b6b6b6" stroke-width="3"/><path d="M166,300 Q176,316 176,336 Q174,352 166,362" fill="none" stroke="#8e8e8e" stroke-width="0.8"/><path d="M146,293.5 L152,296.5 M148,304 L147.5,309" stroke="#333" stroke-width="1.6"/><ellipse cx="166" cy="362" rx="3" ry="4" fill="none" stroke="#6a6a6a" stroke-width="1"/><text x="12.81" y="285.60" font-family="'Liberation Serif', 'DejaVu Serif', serif" font-weight="bold" font-size="11.5" textLength="52.76" lengthAdjust="spacingAndGlyphs" fill="#f2ee00" stroke="#f2ee00" stroke-width="0.35">(c) – AM3</text><text x="86.38" y="292.90" font-family="'Liberation Serif', 'DejaVu Serif', serif" font-weight="bold" font-size="11.5" textLength="90.20" lengthAdjust="spacingAndGlyphs" fill="#f2ee00" stroke="#f2ee00" stroke-width="0.35">Wedge formation</text><line x1="149.3" y1="301.6" x2="154.4" y2="309.4" stroke="#f2ee00" stroke-width="2.0"/><polygon points="157.1,313.6 151.9,311.0 156.8,307.8" fill="#f2ee00"/><text x="18.28" y="332.40" font-family="'Liberation Serif', 'DejaVu Serif', serif" font-weight="bold" font-size="12.0" textLength="48.26" lengthAdjust="spacingAndGlyphs" fill="#f2ee00" stroke="#f2ee00" stroke-width="0.35">Piling-up</text><line x1="63" y1="317.6" x2="71.4" y2="309.5" stroke="#f2ee00" stroke-width="2.0"/><polygon points="75,306 73.4,311.6 69.4,307.4" fill="#f2ee00"/><text x="48.57" y="367.20" font-family="'Liberation Serif', 'DejaVu Serif', serif" font-weight="bold" font-size="11.8" textLength="103.11" lengthAdjust="spacingAndGlyphs" fill="#f2ee00" stroke="#f2ee00" stroke-width="0.35">Massive pilling-up</text><line x1="133" y1="372.7" x2="138.6" y2="379.3" stroke="#f2ee00" stroke-width="2.0"/><polygon points="141.8,383.1 136.4,381.2 140.8,377.4" fill="#f2ee00"/><rect x="14.5" y="379.6" width="16.3" height="2.7" fill="#f2ee00"/><text x="13.99" y="391.60" font-family="'Liberation Serif', 'DejaVu Serif', serif" font-weight="bold" font-size="11.8" textLength="30.47" lengthAdjust="spacingAndGlyphs" fill="#0a0a0a" >20μm</text><text x="53.51" y="391.60" font-family="'Liberation Serif', 'DejaVu Serif', serif" font-weight="bold" font-size="11.8" textLength="55.39" lengthAdjust="spacingAndGlyphs" fill="#0a0a0a" >20kV 500x</text></g>
<rect x="4.1" y="268.3" width="177.1" height="128.1" filter="url(#nz)" style="mix-blend-mode:soft-light" opacity="0.55"/>
<clipPath id="clipd"><rect x="4.9" y="403.2" width="176.0" height="128.1"/></clipPath>
<g clip-path="url(#clipd)"><rect x="5" y="403" width="176" height="129" fill="#a5a5a5"/><path d="M5,451.5 L100,451.5 Q114,456 114,465 Q113,475 100,478.5 L5,478.5 Z" fill="#a9a9a9"/><g opacity="0.5"><rect x="5" y="453.0" width="99" height="0.6" fill="#adadad" opacity="1.0"/><rect x="5" y="456.8" width="99" height="0.6" fill="#acacac" opacity="1.0"/><rect x="5" y="460.6" width="99" height="1.0" fill="#b5b5b5" opacity="1.0"/><rect x="5" y="465.8" width="99" height="0.6" fill="#b2b2b2" opacity="1.0"/><rect x="5" y="469.3" width="99" height="0.6" fill="#adadad" opacity="1.0"/><rect x="5" y="472.5" width="99" height="1.0" fill="#b5b5b5" opacity="1.0"/><rect x="5" y="477.9" width="99" height="0.9" fill="#aeaeae" opacity="1.0"/></g><path d="M5,451.8 L100,451.8 Q114,456 114,465" fill="none" stroke="#bcbcbc" stroke-width="0.7"/><path d="M82.2,455.1 L88.4,451.5 L94.3,448.5 L101.2,443.7 L105.6,443.5 L110.1,443.3 L117.3,442.2 L120.8,440.5" fill="none" stroke="#bebebe" stroke-width="2.6" stroke-linejoin="round" opacity="0.85"/><path d="M82.2,455.1 L88.4,451.5 L94.3,448.5 L101.2,443.7 L105.6,443.5 L110.1,443.3 L117.3,442.2 L120.8,440.5" fill="none" stroke="#6a6a6a" stroke-width="0.6" stroke-linejoin="round" opacity="0.8" transform="translate(0.7,0.7)"/><circle cx="88.6" cy="452.2" r="0.7" fill="#4a4a4a" opacity="0.7"/><circle cx="101.2" cy="443.5" r="0.6" fill="#4a4a4a" opacity="0.7"/><circle cx="110.0" cy="442.6" r="0.5" fill="#4a4a4a" opacity="0.7"/><path d="M101.4,443.2 L106.5,451.2 L113.4,458.0 L122.0,459.8 L128.6,458.6 L131.4,457.2 L134.2,462.5 L137.8,470.8 L144.8,472.1 L151.5,472.5 L156.9,476.1 L160.3,482.9 L166.2,483.3 L169.9,487.4 L174.5,494.2 L181.5,500.5" fill="none" stroke="#bebebe" stroke-width="2.6" stroke-linejoin="round" opacity="0.85"/><path d="M101.4,443.2 L106.5,451.2 L113.4,458.0 L122.0,459.8 L128.6,458.6 L131.4,457.2 L134.2,462.5 L137.8,470.8 L144.8,472.1 L151.5,472.5 L156.9,476.1 L160.3,482.9 L166.2,483.3 L169.9,487.4 L174.5,494.2 L181.5,500.5" fill="none" stroke="#6a6a6a" stroke-width="0.6" stroke-linejoin="round" opacity="0.8" transform="translate(0.7,0.7)"/><circle cx="106.9" cy="452.1" r="0.4" fill="#4a4a4a" opacity="0.7"/><circle cx="121.5" cy="460.7" r="0.7" fill="#4a4a4a" opacity="0.7"/><circle cx="131.2" cy="458.1" r="0.6" fill="#4a4a4a" opacity="0.7"/><circle cx="138.5" cy="470.4" r="0.5" fill="#4a4a4a" opacity="0.7"/><circle cx="151.4" cy="471.8" r="0.6" fill="#4a4a4a" opacity="0.7"/><circle cx="161.2" cy="482.6" r="0.4" fill="#4a4a4a" opacity="0.7"/><circle cx="169.0" cy="486.7" r="0.7" fill="#4a4a4a" opacity="0.7"/><path d="M142.0,429.7 L139.5,437.6 L137.3,444.9 L135.4,451.5 L133.6,463.0" fill="none" stroke="#bebebe" stroke-width="2.6" stroke-linejoin="round" opacity="0.85"/><path d="M142.0,429.7 L139.5,437.6 L137.3,444.9 L135.4,451.5 L133.6,463.0" fill="none" stroke="#6a6a6a" stroke-width="0.6" stroke-linejoin="round" opacity="0.8" transform="translate(0.7,0.7)"/><circle cx="138.8" cy="436.7" r="0.6" fill="#4a4a4a" opacity="0.7"/><circle cx="134.9" cy="452.5" r="0.4" fill="#4a4a4a" opacity="0.7"/><path d="M138.0,470.8 L137.9,477.6 L130.2,484.5 L127.5,493.3 L124.9,499.7 L126.5,506.4" fill="none" stroke="#bebebe" stroke-width="2.6" stroke-linejoin="round" opacity="0.85"/><path d="M138.0,470.8 L137.9,477.6 L130.2,484.5 L127.5,493.3 L124.9,499.7 L126.5,506.4" fill="none" stroke="#6a6a6a" stroke-width="0.6" stroke-linejoin="round" opacity="0.8" transform="translate(0.7,0.7)"/><circle cx="137.9" cy="476.6" r="0.5" fill="#4a4a4a" opacity="0.7"/><circle cx="127.0" cy="492.8" r="0.5" fill="#4a4a4a" opacity="0.7"/><path d="M82.4,454.4 L79.5,461.5 L79.1,468.0 L75.9,472.5 L74.4,477.2" fill="none" stroke="#bebebe" stroke-width="2.6" stroke-linejoin="round" opacity="0.85"/><path d="M82.4,454.4 L79.5,461.5 L79.1,468.0 L75.9,472.5 L74.4,477.2" fill="none" stroke="#6a6a6a" stroke-width="0.6" stroke-linejoin="round" opacity="0.8" transform="translate(0.7,0.7)"/><circle cx="80.0" cy="461.5" r="0.4" fill="#4a4a4a" opacity="0.7"/><circle cx="75.3" cy="473.2" r="0.8" fill="#4a4a4a" opacity="0.7"/><path d="M9.8,430.8 L15.2,436.4 L21.4,441.4 L27.0,442.2 L32.3,442.7 L34.8,451.2 L40.5,456.6 L50.1,464.0 L55.5,467.5 L62.2,470.9" fill="none" stroke="#bebebe" stroke-width="2.6" stroke-linejoin="round" opacity="0.85"/><path d="M9.8,430.8 L15.2,436.4 L21.4,441.4 L27.0,442.2 L32.3,442.7 L34.8,451.2 L40.5,456.6 L50.1,464.0 L55.5,467.5 L62.2,470.9" fill="none" stroke="#6a6a6a" stroke-width="0.6" stroke-linejoin="round" opacity="0.8" transform="translate(0.7,0.7)"/><circle cx="15.5" cy="435.5" r="0.5" fill="#4a4a4a" opacity="0.7"/><circle cx="27.3" cy="442.3" r="0.7" fill="#4a4a4a" opacity="0.7"/><circle cx="35.7" cy="450.7" r="0.4" fill="#4a4a4a" opacity="0.7"/><circle cx="50.9" cy="463.0" r="0.8" fill="#4a4a4a" opacity="0.7"/><path d="M39.2,421.4 L40.8,425.5 L39.1,429.5" fill="none" stroke="#bebebe" stroke-width="2.6" stroke-linejoin="round" opacity="0.85"/><path d="M39.2,421.4 L40.8,425.5 L39.1,429.5" fill="none" stroke="#6a6a6a" stroke-width="0.6" stroke-linejoin="round" opacity="0.8" transform="translate(0.7,0.7)"/><circle cx="40.2" cy="425.8" r="0.5" fill="#4a4a4a" opacity="0.7"/><path d="M142.5,409.3 L143.0,416.0 L141.9,422.4 L142.3,430.0" fill="none" stroke="#bebebe" stroke-width="2.6" stroke-linejoin="round" opacity="0.85"/><path d="M142.5,409.3 L143.0,416.0 L141.9,422.4 L142.3,430.0" fill="none" stroke="#6a6a6a" stroke-width="0.6" stroke-linejoin="round" opacity="0.8" transform="translate(0.7,0.7)"/><circle cx="143.7" cy="416.2" r="0.5" fill="#4a4a4a" opacity="0.7"/><path d="M157.2,476.7 L163.0,471.4 L170.4,470.4 L177.5,466.1" fill="none" stroke="#bebebe" stroke-width="2.6" stroke-linejoin="round" opacity="0.85"/><path d="M157.2,476.7 L163.0,471.4 L170.4,470.4 L177.5,466.1" fill="none" stroke="#6a6a6a" stroke-width="0.6" stroke-linejoin="round" opacity="0.8" transform="translate(0.7,0.7)"/><circle cx="162.8" cy="472.0" r="0.5" fill="#4a4a4a" opacity="0.7"/><circle cx="27.8" cy="456.1" r="0.9" fill="#2a2a2a"/><circle cx="47" cy="510" r="0.7" fill="#2a2a2a"/><circle cx="115.3" cy="442" r="1.0" fill="#2a2a2a"/><circle cx="118" cy="441" r="0.8" fill="#2a2a2a"/><circle cx="58" cy="471" r="0.8" fill="#2a2a2a"/><circle cx="108" cy="444" r="0.7" fill="#2a2a2a"/><text x="15.31" y="418.90" font-family="'Liberation Serif', 'DejaVu Serif', serif" font-weight="bold" font-size="11.8" textLength="54.22" lengthAdjust="spacingAndGlyphs" fill="#f2ee00" stroke="#f2ee00" stroke-width="0.35">(d) – AM4</text><text x="39.98" y="499.00" font-family="'Liberation Serif', 'DejaVu Serif', serif" font-weight="bold" font-size="11.5" textLength="48.47" lengthAdjust="spacingAndGlyphs" fill="#f2ee00" stroke="#f2ee00" stroke-width="0.35">piling-up</text><line x1="45.4" y1="490.4" x2="62.4" y2="478.8" stroke="#f2ee00" stroke-width="2.0"/><polygon points="66.5,476 64.0,481.2 60.7,476.4" fill="#f2ee00"/><rect x="14.5" y="511.8" width="16.0" height="3.0" fill="#f2ee00"/><text x="14.89" y="523.50" font-family="'Liberation Serif', 'DejaVu Serif', serif" font-weight="bold" font-size="11.0" textLength="30.47" lengthAdjust="spacingAndGlyphs" fill="#0a0a0a" >20μm</text><text x="54.63" y="523.50" font-family="'Liberation Serif', 'DejaVu Serif', serif" font-weight="bold" font-size="11.0" textLength="53.67" lengthAdjust="spacingAndGlyphs" fill="#0a0a0a" >20kV 250x</text></g>
<rect x="4.9" y="403.2" width="176.0" height="128.1" filter="url(#nz)" style="mix-blend-mode:soft-light" opacity="0.55"/>
<rect x="5.7" y="3.9" width="176.4" height="125.5" fill="none" stroke="#000" stroke-width="3.3"/>
<rect x="5.2" y="137.8" width="174.9" height="124.0" fill="none" stroke="#000" stroke-width="3.3"/>
<rect x="5.8" y="269.9" width="173.8" height="124.8" fill="none" stroke="#000" stroke-width="3.3"/>
<rect x="6.6" y="404.8" width="172.7" height="124.8" fill="none" stroke="#000" stroke-width="3.3"/>
<line x1="216.5" y1="36.5" x2="365.7" y2="36.5" stroke="#dcdcdc" stroke-width="1.1" stroke-dasharray="10,2.5"/>
<line x1="216.5" y1="64.5" x2="365.7" y2="64.5" stroke="#dcdcdc" stroke-width="1.1" stroke-dasharray="10,2.5"/>
<line x1="216.5" y1="92.4" x2="365.7" y2="92.4" stroke="#dcdcdc" stroke-width="1.1" stroke-dasharray="10,2.5"/>
<path d="M216.3,50.6 218.3,50.6 220.3,50.6 222.3,50.6 224.3,50.6 226.3,50.6 228.3,50.6 230.3,50.6 232.3,50.6 234.3,50.6 236.3,50.6 238.3,50.6 240.3,50.6 242.3,50.6 244.3,50.6 246.3,50.6 248.3,50.6 250.3,50.6 252.3,50.6 254.3,50.6 256.3,50.6 258.3,50.6 260.3,50.6 260.8,50.6 261.3,50.6 261.8,50.6 262.3,50.6 262.8,50.6 263.3,50.5 263.8,50.5 264.3,50.5 264.8,50.5 265.3,50.4 265.8,50.4 266.3,50.3 266.8,50.2 267.3,50.1 267.8,50.0 268.3,49.8 268.8,49.5 269.3,49.1 269.8,48.7 270.3,48.1 270.8,47.3 271.3,46.3 271.8,45.3 272.3,44.5 272.8,44.3 273.3,44.9 273.8,46.4 274.3,48.3 274.8,50.4 275.3,52.5 275.8,54.7 276.3,56.8 276.8,58.9 277.3,61.0 277.8,62.9 278.3,64.8 278.8,66.4 279.3,67.8 279.8,68.6 280.3,68.8 280.8,68.1 281.3,66.4 281.8,63.9 282.3,60.8 282.8,57.2 283.3,53.3 283.8,49.4 284.3,45.7 284.8,42.7 285.3,41.0 285.8,41.0 286.3,42.5 286.8,44.6 287.3,46.6 287.8,48.1 288.3,49.1 288.8,49.7 289.3,50.0 289.8,50.3 290.3,50.4 290.8,50.5 291.3,50.5 291.8,50.6 292.3,50.6 292.8,50.6 293.3,50.6 293.8,50.6 294.3,50.6 294.8,50.6 295.3,50.6 295.8,50.6 296.3,50.6 296.8,50.6 297.3,50.6 298.3,50.6 300.3,50.6 302.3,50.6 304.3,50.6 306.3,50.6 308.3,50.6 310.3,50.6 312.3,50.6 314.3,50.6 316.3,50.6 318.3,50.6 320.3,50.6 322.3,50.6 324.3,50.6 326.3,50.6 328.3,50.6 330.3,50.6 332.3,50.6 334.3,50.6 336.3,50.6 338.3,50.6 340.3,50.6 342.3,50.6 344.3,50.6 346.3,50.6 348.3,50.6 350.3,50.6 352.3,50.6 354.3,50.6 356.3,50.6 358.3,50.6 360.3,50.6 362.3,50.6 364.3,50.6 365.8,50.6" fill="none" stroke="#262626" stroke-width="1.7" stroke-linejoin="round"/>
<path d="M216.3,49.9 218.3,49.9 220.3,49.9 222.3,49.9 224.3,49.9 226.3,49.9 228.3,49.9 230.3,49.9 232.3,49.9 234.3,49.9 236.3,49.9 238.3,49.9 240.3,49.9 242.3,49.8 244.3,49.8 246.3,49.8 248.3,49.7 250.3,49.6 252.3,49.5 254.3,49.3 256.3,48.9 258.3,48.5 260.3,47.7 260.8,47.5 261.3,47.2 261.8,46.9 262.3,46.6 262.8,46.2 263.3,45.8 263.8,45.4 264.3,44.9 264.8,44.3 265.3,43.7 265.8,43.0 266.3,42.3 266.8,41.4 267.3,40.5 267.8,39.4 268.3,38.3 268.8,37.0 269.3,35.6 269.8,34.0 270.3,32.3 270.8,30.4 271.3,28.6 271.8,27.1 272.3,26.7 272.8,27.8 273.3,30.6 273.8,34.7 274.3,39.5 274.8,44.5 275.3,49.6 275.8,54.7 276.3,59.8 276.8,64.8 277.3,69.8 277.8,74.7 278.3,79.5 278.8,84.1 279.3,88.3 279.8,91.8 280.3,94.3 280.8,95.3 281.3,94.7 281.8,92.5 282.3,89.0 282.8,84.7 283.3,79.9 283.8,74.8 284.3,69.5 284.8,64.1 285.3,58.7 285.8,53.2 286.3,47.7 286.8,42.2 287.3,36.7 287.8,31.5 288.3,27.1 288.8,24.2 289.3,23.4 289.8,24.6 290.3,27.1 290.8,30.1 291.3,32.9 291.8,35.4 292.3,37.6 292.8,39.4 293.3,41.0 293.8,42.3 294.3,43.4 294.8,44.4 295.3,45.2 295.8,45.9 296.3,46.5 296.8,47.0 297.3,47.4 297.8,47.8 298.3,48.1 298.8,48.4 299.3,48.6 299.8,48.8 300.3,49.0 300.8,49.1 302.3,49.4 304.3,49.6 306.3,49.8 308.3,49.8 310.3,49.9 312.3,49.9 314.3,49.9 316.3,49.9 318.3,49.9 320.3,49.9 322.3,49.9 324.3,49.9 326.3,49.9 328.3,49.9 330.3,49.9 332.3,49.9 334.3,49.9 336.3,49.9 338.3,49.9 340.3,49.9 342.3,49.9 344.3,49.9 346.3,49.9 348.3,49.9 350.3,49.9 352.3,49.9 354.3,49.9 356.3,49.9 358.3,49.9 360.3,49.9 362.3,49.9 364.3,49.9 365.8,49.9" fill="none" stroke="#ff1a1a" stroke-width="1.7" stroke-linejoin="round"/>
<path d="M216.3,49.9 218.3,49.9 220.3,49.9 222.3,49.9 224.3,49.9 226.3,49.8 228.3,49.8 230.3,49.8 232.3,49.8 234.3,49.7 236.3,49.7 238.3,49.6 240.3,49.5 242.3,49.4 244.3,49.2 246.3,49.0 248.3,48.8 250.3,48.4 252.3,48.0 254.3,47.4 256.3,46.6 258.3,45.6 259.3,45.0 259.8,44.6 260.3,44.3 260.8,43.9 261.3,43.5 261.8,43.0 262.3,42.6 262.8,42.1 263.3,41.5 263.8,40.9 264.3,40.3 264.8,39.7 265.3,39.0 265.8,38.2 266.3,37.4 266.8,36.5 267.3,35.6 267.8,34.6 268.3,33.6 268.8,32.5 269.3,31.3 269.8,30.2 270.3,29.4 270.8,29.3 271.3,30.3 271.8,32.7 272.3,36.1 272.8,40.1 273.3,44.4 273.8,48.7 274.3,53.1 274.8,57.4 275.3,61.7 275.8,65.9 276.3,70.1 276.8,74.2 277.3,78.1 277.8,81.6 278.3,84.6 278.8,86.8 279.3,88.3 279.8,89.1 280.3,89.4 280.8,89.5 281.3,89.5 281.8,89.4 282.3,89.2 282.8,88.5 283.3,87.0 283.8,84.3 284.3,80.4 284.8,75.4 285.3,69.7 285.8,63.7 286.3,57.5 286.8,51.2 287.3,44.8 287.8,38.6 288.3,32.8 288.8,27.9 289.3,24.7 289.8,23.4 290.3,23.7 290.8,24.9 291.3,26.4 291.8,27.9 292.3,29.4 292.8,30.8 293.3,32.1 293.8,33.3 294.3,34.4 294.8,35.4 295.3,36.4 295.8,37.3 296.3,38.1 296.8,38.9 297.3,39.7 297.8,40.4 298.3,41.0 298.8,41.6 299.3,42.2 299.8,42.7 300.3,43.2 300.8,43.6 301.3,44.0 302.3,44.8 304.3,46.0 306.3,47.0 308.3,47.7 310.3,48.2 312.3,48.6 314.3,48.9 316.3,49.2 318.3,49.3 320.3,49.5 322.3,49.6 324.3,49.7 326.3,49.7 328.3,49.8 330.3,49.8 332.3,49.8 334.3,49.8 336.3,49.9 338.3,49.9 340.3,49.9 342.3,49.9 344.3,49.9 346.3,49.9 348.3,49.9 350.3,49.9 352.3,49.9 354.3,49.9 356.3,49.9 358.3,49.9 360.3,49.9 362.3,49.9 364.3,49.9 365.8,49.9" fill="none" stroke="#1a1aff" stroke-width="1.7" stroke-linejoin="round"/>
<line x1="290.1" y1="78.9" x2="315.0" y2="78.9" stroke="#262626" stroke-width="1.6"/>
<text x="318.59" y="82.40" font-family="'Liberation Serif', 'DejaVu Serif', serif" font-weight="bold" font-size="11.0" textLength="45.55" lengthAdjust="spacingAndGlyphs" fill="#151515" >Position 1</text>
<line x1="290.1" y1="94.9" x2="315.0" y2="94.9" stroke="#ff1a1a" stroke-width="1.6"/>
<text x="318.59" y="98.60" font-family="'Liberation Serif', 'DejaVu Serif', serif" font-weight="bold" font-size="11.0" textLength="45.44" lengthAdjust="spacingAndGlyphs" fill="#151515" >Position 2</text>
<line x1="290.1" y1="109.4" x2="315.0" y2="109.4" stroke="#1a1aff" stroke-width="1.6"/>
<text x="318.59" y="113.40" font-family="'Liberation Serif', 'DejaVu Serif', serif" font-weight="bold" font-size="11.0" textLength="45.33" lengthAdjust="spacingAndGlyphs" fill="#151515" >Position 3</text>
<text x="332.20" y="29.50" font-family="'Liberation Serif', 'DejaVu Serif', serif" font-weight="bold" font-size="14.0" textLength="28.15" lengthAdjust="spacingAndGlyphs" fill="#111" >AM1</text>
<rect x="215.5" y="8.5" width="151.2" height="111.9" fill="none" stroke="#6a6a6a" stroke-width="1.2"/>
<line x1="213.0" y1="22.5" x2="215.5" y2="22.5" stroke="#6a6a6a" stroke-width="1"/>
<line x1="366.7" y1="22.5" x2="369.2" y2="22.5" stroke="#6a6a6a" stroke-width="1"/>
<text x="212.2" y="25.7" text-anchor="end" font-family="'Liberation Serif', 'DejaVu Serif', serif" font-size="9.4" fill="#111" stroke="#111" stroke-width="0.35">1</text>
<text x="369.7" y="24.7" font-family="'Liberation Serif', 'DejaVu Serif', serif" font-size="6.5" fill="#111" stroke="#111" stroke-width="0.2">1</text>
<line x1="213.0" y1="50.5" x2="215.5" y2="50.5" stroke="#6a6a6a" stroke-width="1"/>
<line x1="366.7" y1="50.5" x2="369.2" y2="50.5" stroke="#6a6a6a" stroke-width="1"/>
<text x="212.2" y="53.7" text-anchor="end" font-family="'Liberation Serif', 'DejaVu Serif', serif" font-size="9.4" fill="#111" stroke="#111" stroke-width="0.35">0</text>
<text x="369.7" y="52.7" font-family="'Liberation Serif', 'DejaVu Serif', serif" font-size="6.5" fill="#111" stroke="#111" stroke-width="0.2">0</text>
<line x1="213.0" y1="78.4" x2="215.5" y2="78.4" stroke="#6a6a6a" stroke-width="1"/>
<line x1="366.7" y1="78.4" x2="369.2" y2="78.4" stroke="#6a6a6a" stroke-width="1"/>
<text x="212.2" y="81.6" text-anchor="end" font-family="'Liberation Serif', 'DejaVu Serif', serif" font-size="9.4" fill="#111" stroke="#111" stroke-width="0.35">-1</text>
<text x="369.7" y="80.6" font-family="'Liberation Serif', 'DejaVu Serif', serif" font-size="6.5" fill="#111" stroke="#111" stroke-width="0.2">-1</text>
<line x1="213.0" y1="106.4" x2="215.5" y2="106.4" stroke="#6a6a6a" stroke-width="1"/>
<line x1="366.7" y1="106.4" x2="369.2" y2="106.4" stroke="#6a6a6a" stroke-width="1"/>
<text x="212.2" y="109.6" text-anchor="end" font-family="'Liberation Serif', 'DejaVu Serif', serif" font-size="9.4" fill="#111" stroke="#111" stroke-width="0.35">-2</text>
<text x="369.7" y="108.6" font-family="'Liberation Serif', 'DejaVu Serif', serif" font-size="6.5" fill="#111" stroke="#111" stroke-width="0.2">-2</text>
<line x1="214.0" y1="8.5" x2="215.5" y2="8.5" stroke="#6a6a6a" stroke-width="1"/>
<line x1="366.7" y1="8.5" x2="368.2" y2="8.5" stroke="#6a6a6a" stroke-width="1"/>
<line x1="214.0" y1="36.5" x2="215.5" y2="36.5" stroke="#6a6a6a" stroke-width="1"/>
<line x1="366.7" y1="36.5" x2="368.2" y2="36.5" stroke="#6a6a6a" stroke-width="1"/>
<line x1="214.0" y1="64.5" x2="215.5" y2="64.5" stroke="#6a6a6a" stroke-width="1"/>
<line x1="366.7" y1="64.5" x2="368.2" y2="64.5" stroke="#6a6a6a" stroke-width="1"/>
<line x1="214.0" y1="92.4" x2="215.5" y2="92.4" stroke="#6a6a6a" stroke-width="1"/>
<line x1="366.7" y1="92.4" x2="368.2" y2="92.4" stroke="#6a6a6a" stroke-width="1"/>
<line x1="214.0" y1="120.4" x2="215.5" y2="120.4" stroke="#6a6a6a" stroke-width="1"/>
<line x1="366.7" y1="120.4" x2="368.2" y2="120.4" stroke="#6a6a6a" stroke-width="1"/>
<line x1="228.1" y1="120.4" x2="228.1" y2="121.9" stroke="#6a6a6a" stroke-width="1"/>
<line x1="253.3" y1="120.4" x2="253.3" y2="121.9" stroke="#6a6a6a" stroke-width="1"/>
<line x1="278.5" y1="120.4" x2="278.5" y2="121.9" stroke="#6a6a6a" stroke-width="1"/>
<line x1="303.7" y1="120.4" x2="303.7" y2="121.9" stroke="#6a6a6a" stroke-width="1"/>
<line x1="328.9" y1="120.4" x2="328.9" y2="121.9" stroke="#6a6a6a" stroke-width="1"/>
<line x1="354.1" y1="120.4" x2="354.1" y2="121.9" stroke="#6a6a6a" stroke-width="1"/>
<line x1="215.5" y1="120.4" x2="215.5" y2="122.4" stroke="#6a6a6a" stroke-width="1"/>
<text x="215.5" y="130.3" text-anchor="middle" font-family="'Liberation Serif', 'DejaVu Serif', serif" font-size="9.8" fill="#111" stroke="#111" stroke-width="0.35">0.4</text>
<line x1="240.7" y1="120.4" x2="240.7" y2="122.4" stroke="#6a6a6a" stroke-width="1"/>
<text x="240.7" y="130.3" text-anchor="middle" font-family="'Liberation Serif', 'DejaVu Serif', serif" font-size="9.8" fill="#111" stroke="#111" stroke-width="0.35">0.5</text>
<line x1="265.9" y1="120.4" x2="265.9" y2="122.4" stroke="#6a6a6a" stroke-width="1"/>
<text x="265.9" y="130.3" text-anchor="middle" font-family="'Liberation Serif', 'DejaVu Serif', serif" font-size="9.8" fill="#111" stroke="#111" stroke-width="0.35">0.6</text>
<line x1="291.1" y1="120.4" x2="291.1" y2="122.4" stroke="#6a6a6a" stroke-width="1"/>
<text x="291.1" y="130.3" text-anchor="middle" font-family="'Liberation Serif', 'DejaVu Serif', serif" font-size="9.8" fill="#111" stroke="#111" stroke-width="0.35">0.7</text>
<line x1="316.3" y1="120.4" x2="316.3" y2="122.4" stroke="#6a6a6a" stroke-width="1"/>
<text x="316.3" y="130.3" text-anchor="middle" font-family="'Liberation Serif', 'DejaVu Serif', serif" font-size="9.8" fill="#111" stroke="#111" stroke-width="0.35">0.8</text>
<line x1="341.5" y1="120.4" x2="341.5" y2="122.4" stroke="#6a6a6a" stroke-width="1"/>
<text x="341.5" y="130.3" text-anchor="middle" font-family="'Liberation Serif', 'DejaVu Serif', serif" font-size="9.8" fill="#111" stroke="#111" stroke-width="0.35">0.9</text>
<line x1="366.7" y1="120.4" x2="366.7" y2="122.4" stroke="#6a6a6a" stroke-width="1"/>
<text x="366.7" y="130.3" text-anchor="middle" font-family="'Liberation Serif', 'DejaVu Serif', serif" font-size="9.8" fill="#111" stroke="#111" stroke-width="0.35">1.0</text>
<text transform="translate(201.66,92.22) rotate(-90)" x="0" y="0" font-family="'Liberation Serif', 'DejaVu Serif', serif" font-weight="bold" font-size="10.65" textLength="57.92" lengthAdjust="spacingAndGlyphs" fill="#111" >Depth (μm)</text>
<line x1="218.5" y1="159.2" x2="365.8" y2="159.2" stroke="#dcdcdc" stroke-width="1.1" stroke-dasharray="10,2.5"/>
<line x1="218.5" y1="186.8" x2="365.8" y2="186.8" stroke="#dcdcdc" stroke-width="1.1" stroke-dasharray="10,2.5"/>
<line x1="218.5" y1="214.4" x2="365.8" y2="214.4" stroke="#dcdcdc" stroke-width="1.1" stroke-dasharray="10,2.5"/>
<path d="M218.3,171.1 220.3,171.1 222.3,171.1 224.3,171.1 226.3,171.1 228.3,171.1 230.3,171.1 232.3,171.1 234.3,171.1 236.3,171.1 238.3,171.1 240.3,171.1 242.3,171.1 244.3,171.1 246.3,171.1 248.3,171.1 250.3,171.1 252.3,171.1 254.3,171.1 256.3,171.1 258.3,171.1 260.3,171.1 262.3,171.1 262.8,171.1 263.3,171.1 263.8,171.1 264.3,171.1 264.8,171.1 265.3,171.1 265.8,171.0 266.3,171.0 266.8,171.0 267.3,171.0 267.8,170.9 268.3,170.9 268.8,170.8 269.3,170.8 269.8,170.7 270.3,170.6 270.8,170.4 271.3,170.2 271.8,170.0 272.3,169.7 272.8,169.4 273.3,169.1 273.8,169.1 274.3,169.5 274.8,170.2 275.3,171.1 275.8,172.2 276.3,173.3 276.8,174.3 277.3,175.3 277.8,176.3 278.3,177.1 278.8,177.9 279.3,178.6 279.8,179.2 280.3,179.6 280.8,180.0 281.3,180.2 281.8,180.2 282.3,180.1 282.8,179.8 283.3,179.5 283.8,178.9 284.3,178.3 284.8,177.6 285.3,176.8 285.8,175.9 286.3,174.9 286.8,173.9 287.3,172.9 287.8,171.9 288.3,171.0 288.8,170.4 289.3,170.0 289.8,170.0 290.3,170.1 290.8,170.3 291.3,170.5 291.8,170.7 292.3,170.8 292.8,171.0 293.3,171.1 293.8,171.2 294.3,171.3 294.8,171.3 295.3,171.4 295.8,171.5 296.3,171.5 296.8,171.6 297.3,171.6 297.8,171.7 298.3,171.7 298.8,171.8 299.3,171.8 299.8,171.9 300.3,171.9 300.8,172.0 302.3,172.1 304.3,172.2 306.3,172.4 308.3,172.5 310.3,172.7 312.3,172.8 314.3,173.0 316.3,173.1 318.3,173.3 320.3,173.4 322.3,173.6 324.3,173.7 326.3,173.9 328.3,174.0 330.3,174.2 332.3,174.3 334.3,174.5 336.3,174.6 338.3,174.7 340.3,174.9 342.3,175.0 344.3,175.2 346.3,175.3 348.3,175.5 350.3,175.6 352.3,175.8 354.3,175.9 356.3,176.1 358.3,176.2 360.3,176.4 362.3,176.5 364.3,176.7 365.8,176.8" fill="none" stroke="#262626" stroke-width="1.7" stroke-linejoin="round"/>
<path d="M218.3,168.5 220.3,168.6 222.3,168.6 224.3,168.7 226.3,168.7 228.3,168.8 230.3,168.8 232.3,168.9 234.3,168.9 236.3,168.9 238.3,169.0 240.3,169.0 242.3,169.0 244.3,169.0 246.3,169.0 248.3,168.9 250.3,168.8 252.3,168.6 254.3,168.3 256.3,168.0 258.3,167.4 259.8,166.9 260.3,166.6 260.8,166.4 261.3,166.1 261.8,165.9 262.3,165.5 262.8,165.2 263.3,164.9 263.8,164.5 264.3,164.0 264.8,163.6 265.3,163.1 265.8,162.5 266.3,161.9 266.8,161.3 267.3,160.6 267.8,159.8 268.3,159.0 268.8,158.1 269.3,157.2 269.8,156.2 270.3,155.4 270.8,154.9 271.3,155.2 271.8,156.4 272.3,158.6 272.8,161.3 273.3,164.3 273.8,167.4 274.3,170.5 274.8,173.6 275.3,176.7 275.8,179.7 276.3,182.7 276.8,185.6 277.3,188.5 277.8,191.3 278.3,194.0 278.8,196.5 279.3,198.8 279.8,200.8 280.3,202.3 280.8,203.2 281.3,203.5 281.8,203.1 282.3,201.9 282.8,200.2 283.3,197.9 283.8,195.3 284.3,192.5 284.8,189.5 285.3,186.4 285.8,183.2 286.3,179.9 286.8,176.6 287.3,173.3 287.8,170.0 288.3,166.6 288.8,163.4 289.3,160.4 289.8,158.0 290.3,156.6 290.8,156.2 291.3,156.6 291.8,157.4 292.3,158.3 292.8,159.2 293.3,160.1 293.8,160.9 294.3,161.6 294.8,162.3 295.3,162.9 295.8,163.5 296.3,164.1 296.8,164.6 297.3,165.0 297.8,165.5 298.3,165.9 298.8,166.3 299.3,166.6 299.8,166.9 300.3,167.2 300.8,167.5 301.3,167.8 301.8,168.0 302.3,168.2 304.3,169.0 306.3,169.6 308.3,170.0 310.3,170.3 312.3,170.6 314.3,170.8 316.3,171.0 318.3,171.1 320.3,171.2 322.3,171.3 324.3,171.4 326.3,171.5 328.3,171.6 330.3,171.7 332.3,171.7 334.3,171.8 336.3,171.8 338.3,171.9 340.3,172.0 342.3,172.0 344.3,172.1 346.3,172.1 348.3,172.2 350.3,172.3 352.3,172.3 354.3,172.4 356.3,172.4 358.3,172.5 360.3,172.5 362.3,172.6 364.3,172.7 365.8,172.7" fill="none" stroke="#ff1a1a" stroke-width="1.7" stroke-linejoin="round"/>
<path d="M218.3,170.4 220.3,170.4 222.3,170.4 224.3,170.5 226.3,170.4 228.3,170.4 230.3,170.4 232.3,170.4 234.3,170.3 236.3,170.2 238.3,170.1 240.3,170.0 242.3,169.8 244.3,169.6 246.3,169.3 248.3,168.9 250.3,168.4 252.3,167.8 254.3,167.0 256.3,166.1 258.3,164.8 258.8,164.5 259.3,164.1 259.8,163.7 260.3,163.3 260.8,162.8 261.3,162.4 261.8,161.9 262.3,161.3 262.8,160.8 263.3,160.2 263.8,159.6 264.3,158.9 264.8,158.2 265.3,157.4 265.8,156.7 266.3,155.8 266.8,154.9 267.3,154.0 267.8,153.0 268.3,152.0 268.8,150.9 269.3,150.0 269.8,149.4 270.3,149.5 270.8,150.5 271.3,152.5 271.8,155.2 272.3,158.2 272.8,161.4 273.3,164.5 273.8,167.7 274.3,170.8 274.8,173.9 275.3,177.0 275.8,180.0 276.3,183.0 276.8,186.0 277.3,188.8 277.8,191.6 278.3,194.3 278.8,196.8 279.3,199.0 279.8,200.9 280.3,202.3 280.8,203.2 281.3,203.5 281.8,203.1 282.3,202.1 282.8,200.4 283.3,198.4 283.8,195.9 284.3,193.3 284.8,190.4 285.3,187.4 285.8,184.3 286.3,181.2 286.8,178.0 287.3,174.8 287.8,171.5 288.3,168.2 288.8,164.9 289.3,161.6 289.8,158.4 290.3,155.5 290.8,153.3 291.3,152.0 291.8,151.7 292.3,152.3 292.8,153.2 293.3,154.4 293.8,155.5 294.3,156.5 294.8,157.5 295.3,158.4 295.8,159.3 296.3,160.1 296.8,160.8 297.3,161.5 297.8,162.2 298.3,162.8 298.8,163.4 299.3,163.9 299.8,164.5 300.3,164.9 300.8,165.4 301.3,165.8 301.8,166.2 302.3,166.6 302.8,166.9 304.3,167.8 306.3,168.8 308.3,169.5 310.3,170.1 312.3,170.5 314.3,170.9 316.3,171.2 318.3,171.4 320.3,171.5 322.3,171.7 324.3,171.8 326.3,171.9 328.3,172.0 330.3,172.0 332.3,172.1 334.3,172.2 336.3,172.2 338.3,172.2 340.3,172.3 342.3,172.3 344.3,172.4 346.3,172.4 348.3,172.4 350.3,172.5 352.3,172.5 354.3,172.5 356.3,172.6 358.3,172.6 360.3,172.6 362.3,172.6 364.3,172.7 365.8,172.7" fill="none" stroke="#1a1aff" stroke-width="1.7" stroke-linejoin="round"/>
<line x1="292.8" y1="201.3" x2="316.0" y2="201.3" stroke="#262626" stroke-width="1.6"/>
<text x="320.19" y="204.90" font-family="'Liberation Serif', 'DejaVu Serif', serif" font-weight="bold" font-size="10.8" textLength="44.94" lengthAdjust="spacingAndGlyphs" fill="#151515" >Position 1</text>
<line x1="292.8" y1="216.3" x2="316.0" y2="216.3" stroke="#ff1a1a" stroke-width="1.6"/>
<text x="320.19" y="219.70" font-family="'Liberation Serif', 'DejaVu Serif', serif" font-weight="bold" font-size="10.8" textLength="44.83" lengthAdjust="spacingAndGlyphs" fill="#151515" >Position 2</text>
<line x1="292.8" y1="231.3" x2="316.0" y2="231.3" stroke="#1a1aff" stroke-width="1.6"/>
<text x="320.19" y="234.70" font-family="'Liberation Serif', 'DejaVu Serif', serif" font-weight="bold" font-size="10.8" textLength="44.73" lengthAdjust="spacingAndGlyphs" fill="#151515" >Position 3</text>
<text x="334.40" y="151.70" font-family="'Liberation Serif', 'DejaVu Serif', serif" font-weight="bold" font-size="13.0" textLength="28.32" lengthAdjust="spacingAndGlyphs" fill="#111" >AM2</text>
<rect x="217.5" y="131.5" width="149.3" height="110.6" fill="none" stroke="#6a6a6a" stroke-width="1.2"/>
<line x1="215.0" y1="145.3" x2="217.5" y2="145.3" stroke="#6a6a6a" stroke-width="1"/>
<line x1="366.8" y1="145.3" x2="369.3" y2="145.3" stroke="#6a6a6a" stroke-width="1"/>
<text x="214.2" y="148.5" text-anchor="end" font-family="'Liberation Serif', 'DejaVu Serif', serif" font-size="9.4" fill="#111" stroke="#111" stroke-width="0.35">1</text>
<text x="369.8" y="148.2" font-family="'Liberation Serif', 'DejaVu Serif', serif" font-size="8.5" fill="#111" stroke="#111" stroke-width="0.2">1</text>
<line x1="215.0" y1="173.0" x2="217.5" y2="173.0" stroke="#6a6a6a" stroke-width="1"/>
<line x1="366.8" y1="173.0" x2="369.3" y2="173.0" stroke="#6a6a6a" stroke-width="1"/>
<text x="214.2" y="176.2" text-anchor="end" font-family="'Liberation Serif', 'DejaVu Serif', serif" font-size="9.4" fill="#111" stroke="#111" stroke-width="0.35">0</text>
<text x="369.8" y="175.9" font-family="'Liberation Serif', 'DejaVu Serif', serif" font-size="8.5" fill="#111" stroke="#111" stroke-width="0.2">0</text>
<line x1="215.0" y1="200.6" x2="217.5" y2="200.6" stroke="#6a6a6a" stroke-width="1"/>
<line x1="366.8" y1="200.6" x2="369.3" y2="200.6" stroke="#6a6a6a" stroke-width="1"/>
<text x="214.2" y="203.8" text-anchor="end" font-family="'Liberation Serif', 'DejaVu Serif', serif" font-size="9.4" fill="#111" stroke="#111" stroke-width="0.35">-1</text>
<text x="369.8" y="203.5" font-family="'Liberation Serif', 'DejaVu Serif', serif" font-size="8.5" fill="#111" stroke="#111" stroke-width="0.2">-1</text>
<line x1="215.0" y1="228.3" x2="217.5" y2="228.3" stroke="#6a6a6a" stroke-width="1"/>
<line x1="366.8" y1="228.3" x2="369.3" y2="228.3" stroke="#6a6a6a" stroke-width="1"/>
<text x="214.2" y="231.5" text-anchor="end" font-family="'Liberation Serif', 'DejaVu Serif', serif" font-size="9.4" fill="#111" stroke="#111" stroke-width="0.35">-2</text>
<text x="369.8" y="231.2" font-family="'Liberation Serif', 'DejaVu Serif', serif" font-size="8.5" fill="#111" stroke="#111" stroke-width="0.2">-2</text>
<line x1="216.0" y1="131.5" x2="217.5" y2="131.5" stroke="#6a6a6a" stroke-width="1"/>
<line x1="366.8" y1="131.5" x2="368.3" y2="131.5" stroke="#6a6a6a" stroke-width="1"/>
<line x1="216.0" y1="159.2" x2="217.5" y2="159.2" stroke="#6a6a6a" stroke-width="1"/>
<line x1="366.8" y1="159.2" x2="368.3" y2="159.2" stroke="#6a6a6a" stroke-width="1"/>
<line x1="216.0" y1="186.8" x2="217.5" y2="186.8" stroke="#6a6a6a" stroke-width="1"/>
<line x1="366.8" y1="186.8" x2="368.3" y2="186.8" stroke="#6a6a6a" stroke-width="1"/>
<line x1="216.0" y1="214.4" x2="217.5" y2="214.4" stroke="#6a6a6a" stroke-width="1"/>
<line x1="366.8" y1="214.4" x2="368.3" y2="214.4" stroke="#6a6a6a" stroke-width="1"/>
<line x1="216.0" y1="242.1" x2="217.5" y2="242.1" stroke="#6a6a6a" stroke-width="1"/>
<line x1="366.8" y1="242.1" x2="368.3" y2="242.1" stroke="#6a6a6a" stroke-width="1"/>
<line x1="229.9" y1="242.1" x2="229.9" y2="243.6" stroke="#6a6a6a" stroke-width="1"/>
<line x1="254.8" y1="242.1" x2="254.8" y2="243.6" stroke="#6a6a6a" stroke-width="1"/>
<line x1="279.7" y1="242.1" x2="279.7" y2="243.6" stroke="#6a6a6a" stroke-width="1"/>
<line x1="304.6" y1="242.1" x2="304.6" y2="243.6" stroke="#6a6a6a" stroke-width="1"/>
<line x1="329.5" y1="242.1" x2="329.5" y2="243.6" stroke="#6a6a6a" stroke-width="1"/>
<line x1="354.4" y1="242.1" x2="354.4" y2="243.6" stroke="#6a6a6a" stroke-width="1"/>
<line x1="217.5" y1="242.1" x2="217.5" y2="244.1" stroke="#6a6a6a" stroke-width="1"/>
<text x="217.5" y="252.0" text-anchor="middle" font-family="'Liberation Serif', 'DejaVu Serif', serif" font-size="9.8" fill="#111" stroke="#111" stroke-width="0.35">0.4</text>
<line x1="242.4" y1="242.1" x2="242.4" y2="244.1" stroke="#6a6a6a" stroke-width="1"/>
<text x="242.4" y="252.0" text-anchor="middle" font-family="'Liberation Serif', 'DejaVu Serif', serif" font-size="9.8" fill="#111" stroke="#111" stroke-width="0.35">0.5</text>
<line x1="267.3" y1="242.1" x2="267.3" y2="244.1" stroke="#6a6a6a" stroke-width="1"/>
<text x="267.3" y="252.0" text-anchor="middle" font-family="'Liberation Serif', 'DejaVu Serif', serif" font-size="9.8" fill="#111" stroke="#111" stroke-width="0.35">0.6</text>
<line x1="292.2" y1="242.1" x2="292.2" y2="244.1" stroke="#6a6a6a" stroke-width="1"/>
<text x="292.2" y="252.0" text-anchor="middle" font-family="'Liberation Serif', 'DejaVu Serif', serif" font-size="9.8" fill="#111" stroke="#111" stroke-width="0.35">0.7</text>
<line x1="317.0" y1="242.1" x2="317.0" y2="244.1" stroke="#6a6a6a" stroke-width="1"/>
<text x="317.0" y="252.0" text-anchor="middle" font-family="'Liberation Serif', 'DejaVu Serif', serif" font-size="9.8" fill="#111" stroke="#111" stroke-width="0.35">0.8</text>
<line x1="341.9" y1="242.1" x2="341.9" y2="244.1" stroke="#6a6a6a" stroke-width="1"/>
<text x="341.9" y="252.0" text-anchor="middle" font-family="'Liberation Serif', 'DejaVu Serif', serif" font-size="9.8" fill="#111" stroke="#111" stroke-width="0.35">0.9</text>
<line x1="366.8" y1="242.1" x2="366.8" y2="244.1" stroke="#6a6a6a" stroke-width="1"/>
<text x="366.8" y="252.0" text-anchor="middle" font-family="'Liberation Serif', 'DejaVu Serif', serif" font-size="9.8" fill="#111" stroke="#111" stroke-width="0.35">1.0</text>
<text transform="translate(202.15,217.12) rotate(-90)" x="0" y="0" font-family="'Liberation Serif', 'DejaVu Serif', serif" font-weight="bold" font-size="10.22" textLength="57.92" lengthAdjust="spacingAndGlyphs" fill="#111" >Depth (μm)</text>
<line x1="215.6" y1="294.9" x2="370.6" y2="294.9" stroke="#e9e9e9" stroke-width="1.3"/>
<line x1="215.6" y1="323.7" x2="370.6" y2="323.7" stroke="#e9e9e9" stroke-width="1.3"/>
<line x1="215.6" y1="352.4" x2="370.6" y2="352.4" stroke="#e9e9e9" stroke-width="1.3"/>
<path d="M215.4,309.6 217.4,309.6 219.4,309.6 221.4,309.6 223.4,309.6 225.4,309.6 227.4,309.6 229.4,309.6 231.4,309.6 233.4,309.6 235.4,309.6 237.4,309.6 239.4,309.6 241.4,309.6 243.4,309.6 245.4,309.6 247.4,309.6 249.4,309.6 251.4,309.6 253.4,309.6 255.4,309.6 257.4,309.6 259.4,309.6 261.4,309.6 263.4,309.6 265.4,309.6 267.4,309.5 269.4,309.4 269.9,309.4 270.4,309.3 270.9,309.3 271.4,309.2 271.9,309.1 272.4,309.0 272.9,308.9 273.4,308.8 273.9,308.7 274.4,308.5 274.9,308.3 275.4,308.1 275.9,307.8 276.4,307.5 276.9,307.2 277.4,306.8 277.9,306.3 278.4,305.8 278.9,305.1 279.4,304.4 279.9,303.6 280.4,302.7 280.9,302.1 281.4,302.1 281.9,303.0 282.4,304.8 282.9,307.3 283.4,310.1 283.9,313.0 284.4,315.7 284.9,318.3 285.4,320.7 285.9,322.9 286.4,324.8 286.9,326.5 287.4,327.8 287.9,328.9 288.4,329.5 288.9,329.8 289.4,329.5 289.9,328.7 290.4,327.1 290.9,324.9 291.4,322.0 291.9,318.6 292.4,314.7 292.9,310.5 293.4,306.4 293.9,303.1 294.4,301.3 294.9,301.1 295.4,302.2 295.9,303.8 296.4,305.3 296.9,306.6 297.4,307.4 297.9,308.1 298.4,308.5 298.9,308.9 299.4,309.1 299.9,309.3 300.4,309.4 300.9,309.5 301.4,309.6 301.9,309.6 302.4,309.6 302.9,309.7 303.4,309.7 303.9,309.7 304.4,309.7 304.9,309.7 305.4,309.7 305.9,309.7 306.4,309.7 307.4,309.7 309.4,309.7 311.4,309.7 313.4,309.7 315.4,309.7 317.4,309.7 319.4,309.7 321.4,309.7 323.4,309.7 325.4,309.7 327.4,309.7 329.4,309.7 331.4,309.7 333.4,309.8 335.4,309.8 337.4,309.8 339.4,309.8 341.4,309.8 343.4,309.8 345.4,309.8 347.4,309.8 349.4,309.8 351.4,309.8 353.4,309.8 355.4,309.8 357.4,309.8 359.4,309.8 361.4,309.8 363.4,309.8 365.4,309.8 367.4,309.8 369.4,309.8 370.6,309.8" fill="none" stroke="#262626" stroke-width="1.7" stroke-linejoin="round"/>
<path d="M215.4,308.3 217.4,308.3 219.4,308.3 221.4,308.3 223.4,308.4 225.4,308.4 227.4,308.4 229.4,308.4 231.4,308.4 233.4,308.4 235.4,308.5 237.4,308.5 239.4,308.5 241.4,308.5 243.4,308.5 245.4,308.5 247.4,308.5 249.4,308.5 251.4,308.4 253.4,308.4 255.4,308.3 257.4,308.1 259.4,307.9 261.4,307.7 263.4,307.2 265.4,306.7 267.4,305.8 269.4,304.7 269.9,304.3 270.4,303.9 270.9,303.5 271.4,303.0 271.9,302.5 272.4,301.9 272.9,301.3 273.4,300.6 273.9,299.9 274.4,299.1 274.9,298.2 275.4,297.3 275.9,296.2 276.4,295.1 276.9,293.9 277.4,292.6 277.9,291.1 278.4,289.5 278.9,287.8 279.4,285.9 279.9,284.2 280.4,282.9 280.9,282.7 281.4,284.5 281.9,288.5 282.4,294.2 282.9,300.9 283.4,307.9 283.9,314.9 284.4,321.8 284.9,328.6 285.4,335.2 285.9,341.5 286.4,347.4 286.9,352.8 287.4,357.6 287.9,361.5 288.4,364.3 288.9,366.0 289.4,366.4 289.9,365.7 290.4,364.0 290.9,361.5 291.4,358.2 291.9,354.4 292.4,350.1 292.9,345.4 293.4,340.5 293.9,335.4 294.4,330.0 294.9,324.6 295.4,319.0 295.9,313.3 296.4,307.6 296.9,301.8 297.4,296.1 297.9,290.7 298.4,286.3 298.9,283.5 299.4,282.6 299.9,283.5 300.4,285.3 300.9,287.5 301.4,289.7 301.9,291.7 302.4,293.5 302.9,295.1 303.4,296.5 303.9,297.8 304.4,299.0 304.9,300.0 305.4,301.0 305.9,301.8 306.4,302.5 306.9,303.2 307.4,303.8 307.9,304.4 308.4,304.9 308.9,305.3 309.4,305.7 309.9,306.0 310.4,306.4 310.9,306.6 311.4,306.9 313.4,307.7 315.4,308.2 317.4,308.6 319.4,308.8 321.4,308.9 323.4,309.0 325.4,309.1 327.4,309.2 329.4,309.2 331.4,309.2 333.4,309.3 335.4,309.3 337.4,309.3 339.4,309.3 341.4,309.4 343.4,309.4 345.4,309.4 347.4,309.4 349.4,309.4 351.4,309.4 353.4,309.5 355.4,309.5 357.4,309.5 359.4,309.5 361.4,309.5 363.4,309.5 365.4,309.6 367.4,309.6 369.4,309.6 370.6,309.6" fill="none" stroke="#ff1a1a" stroke-width="1.7" stroke-linejoin="round"/>
<path d="M215.4,307.5 217.4,307.5 219.4,307.5 221.4,307.6 223.4,307.6 225.4,307.6 227.4,307.6 229.4,307.7 231.4,307.7 233.4,307.7 235.4,307.7 237.4,307.7 239.4,307.7 241.4,307.7 243.4,307.7 245.4,307.7 247.4,307.6 249.4,307.5 251.4,307.4 253.4,307.2 255.4,307.0 257.4,306.7 259.4,306.3 261.4,305.7 263.4,304.9 265.4,303.9 267.4,302.5 267.9,302.0 268.4,301.6 268.9,301.1 269.4,300.6 269.9,300.0 270.4,299.4 270.9,298.8 271.4,298.1 271.9,297.3 272.4,296.5 272.9,295.7 273.4,294.7 273.9,293.7 274.4,292.7 274.9,291.5 275.4,290.3 275.9,288.9 276.4,287.5 276.9,286.0 277.4,284.4 277.9,282.7 278.4,281.4 278.9,280.8 279.4,281.7 279.9,284.6 280.4,289.1 280.9,294.8 281.4,300.9 281.9,307.0 282.4,313.1 282.9,319.0 283.4,324.7 283.9,330.1 284.4,335.3 284.9,340.2 285.4,344.8 285.9,349.0 286.4,352.7 286.9,355.9 287.4,358.6 287.9,360.6 288.4,362.0 288.9,362.8 289.4,362.8 289.9,362.2 290.4,360.8 290.9,358.7 291.4,356.1 291.9,352.8 292.4,349.0 292.9,344.7 293.4,340.0 293.9,335.0 294.4,329.6 294.9,323.9 295.4,318.1 295.9,312.0 296.4,305.7 296.9,299.4 297.4,293.3 297.9,287.8 298.4,283.8 298.9,281.6 299.4,281.4 299.9,282.3 300.4,283.8 300.9,285.5 301.4,287.1 301.9,288.6 302.4,290.0 302.9,291.3 303.4,292.5 303.9,293.6 304.4,294.6 304.9,295.6 305.4,296.5 305.9,297.4 306.4,298.2 306.9,298.9 307.4,299.6 307.9,300.2 308.4,300.8 308.9,301.4 309.4,301.9 309.9,302.4 310.4,302.8 311.4,303.6 313.4,304.9 315.4,305.9 317.4,306.7 319.4,307.3 321.4,307.7 323.4,308.0 325.4,308.3 327.4,308.5 329.4,308.6 331.4,308.8 333.4,308.9 335.4,309.0 337.4,309.0 339.4,309.1 341.4,309.1 343.4,309.2 345.4,309.2 347.4,309.3 349.4,309.3 351.4,309.3 353.4,309.4 355.4,309.4 357.4,309.4 359.4,309.4 361.4,309.5 363.4,309.5 365.4,309.5 367.4,309.6 369.4,309.6 370.6,309.6" fill="none" stroke="#1a1aff" stroke-width="1.7" stroke-linejoin="round"/>
<line x1="297.4" y1="346.1" x2="320.8" y2="346.1" stroke="#262626" stroke-width="1.6"/>
<text x="324.29" y="349.70" font-family="'Liberation Serif', 'DejaVu Serif', serif" font-weight="bold" font-size="10.6" textLength="44.84" lengthAdjust="spacingAndGlyphs" fill="#151515" >Position 1</text>
<line x1="297.4" y1="360.9" x2="320.8" y2="360.9" stroke="#ff1a1a" stroke-width="1.6"/>
<text x="324.29" y="364.60" font-family="'Liberation Serif', 'DejaVu Serif', serif" font-weight="bold" font-size="10.6" textLength="44.73" lengthAdjust="spacingAndGlyphs" fill="#151515" >Position 2</text>
<line x1="297.4" y1="376.2" x2="320.8" y2="376.2" stroke="#1a1aff" stroke-width="1.6"/>
<text x="324.29" y="379.40" font-family="'Liberation Serif', 'DejaVu Serif', serif" font-weight="bold" font-size="10.6" textLength="44.63" lengthAdjust="spacingAndGlyphs" fill="#151515" >Position 3</text>
<text x="340.20" y="286.10" font-family="'Liberation Serif', 'DejaVu Serif', serif" font-weight="normal" font-size="13.8" textLength="28.91" lengthAdjust="spacingAndGlyphs" fill="#111" stroke="#111" stroke-width="0.3">AM3</text>
<rect x="214.6" y="266.2" width="157.0" height="115.0" fill="none" stroke="#6a6a6a" stroke-width="1.2"/>
<line x1="212.1" y1="280.6" x2="214.6" y2="280.6" stroke="#6a6a6a" stroke-width="1"/>
<line x1="371.6" y1="280.6" x2="374.1" y2="280.6" stroke="#6a6a6a" stroke-width="1"/>
<text x="211.3" y="283.8" text-anchor="end" font-family="'Liberation Serif', 'DejaVu Serif', serif" font-size="9.4" fill="#111" stroke="#111" stroke-width="0.35">1</text>
<text x="374.6" y="284.0" font-family="'Liberation Serif', 'DejaVu Serif', serif" font-size="10" fill="#111" stroke="#111" stroke-width="0.2">1</text>
<line x1="212.1" y1="309.3" x2="214.6" y2="309.3" stroke="#6a6a6a" stroke-width="1"/>
<line x1="371.6" y1="309.3" x2="374.1" y2="309.3" stroke="#6a6a6a" stroke-width="1"/>
<text x="211.3" y="312.5" text-anchor="end" font-family="'Liberation Serif', 'DejaVu Serif', serif" font-size="9.4" fill="#111" stroke="#111" stroke-width="0.35">0</text>
<text x="374.6" y="312.7" font-family="'Liberation Serif', 'DejaVu Serif', serif" font-size="10" fill="#111" stroke="#111" stroke-width="0.2">0</text>
<line x1="212.1" y1="338.1" x2="214.6" y2="338.1" stroke="#6a6a6a" stroke-width="1"/>
<line x1="371.6" y1="338.1" x2="374.1" y2="338.1" stroke="#6a6a6a" stroke-width="1"/>
<text x="211.3" y="341.3" text-anchor="end" font-family="'Liberation Serif', 'DejaVu Serif', serif" font-size="9.4" fill="#111" stroke="#111" stroke-width="0.35">-1</text>
<text x="374.6" y="341.5" font-family="'Liberation Serif', 'DejaVu Serif', serif" font-size="10" fill="#111" stroke="#111" stroke-width="0.2">-1</text>
<line x1="212.1" y1="366.8" x2="214.6" y2="366.8" stroke="#6a6a6a" stroke-width="1"/>
<line x1="371.6" y1="366.8" x2="374.1" y2="366.8" stroke="#6a6a6a" stroke-width="1"/>
<text x="211.3" y="370.0" text-anchor="end" font-family="'Liberation Serif', 'DejaVu Serif', serif" font-size="9.4" fill="#111" stroke="#111" stroke-width="0.35">-2</text>
<text x="374.6" y="370.2" font-family="'Liberation Serif', 'DejaVu Serif', serif" font-size="10" fill="#111" stroke="#111" stroke-width="0.2">-2</text>
<line x1="213.1" y1="266.2" x2="214.6" y2="266.2" stroke="#6a6a6a" stroke-width="1"/>
<line x1="371.6" y1="266.2" x2="373.1" y2="266.2" stroke="#6a6a6a" stroke-width="1"/>
<line x1="213.1" y1="294.9" x2="214.6" y2="294.9" stroke="#6a6a6a" stroke-width="1"/>
<line x1="371.6" y1="294.9" x2="373.1" y2="294.9" stroke="#6a6a6a" stroke-width="1"/>
<line x1="213.1" y1="323.7" x2="214.6" y2="323.7" stroke="#6a6a6a" stroke-width="1"/>
<line x1="371.6" y1="323.7" x2="373.1" y2="323.7" stroke="#6a6a6a" stroke-width="1"/>
<line x1="213.1" y1="352.4" x2="214.6" y2="352.4" stroke="#6a6a6a" stroke-width="1"/>
<line x1="371.6" y1="352.4" x2="373.1" y2="352.4" stroke="#6a6a6a" stroke-width="1"/>
<line x1="213.1" y1="381.2" x2="214.6" y2="381.2" stroke="#6a6a6a" stroke-width="1"/>
<line x1="371.6" y1="381.2" x2="373.1" y2="381.2" stroke="#6a6a6a" stroke-width="1"/>
<line x1="227.7" y1="381.2" x2="227.7" y2="382.7" stroke="#6a6a6a" stroke-width="1"/>
<line x1="253.9" y1="381.2" x2="253.9" y2="382.7" stroke="#6a6a6a" stroke-width="1"/>
<line x1="280.0" y1="381.2" x2="280.0" y2="382.7" stroke="#6a6a6a" stroke-width="1"/>
<line x1="306.2" y1="381.2" x2="306.2" y2="382.7" stroke="#6a6a6a" stroke-width="1"/>
<line x1="332.4" y1="381.2" x2="332.4" y2="382.7" stroke="#6a6a6a" stroke-width="1"/>
<line x1="358.5" y1="381.2" x2="358.5" y2="382.7" stroke="#6a6a6a" stroke-width="1"/>
<line x1="214.6" y1="381.2" x2="214.6" y2="383.2" stroke="#6a6a6a" stroke-width="1"/>
<text x="214.6" y="391.1" text-anchor="middle" font-family="'Liberation Serif', 'DejaVu Serif', serif" font-size="9.8" fill="#111" stroke="#111" stroke-width="0.35">0.4</text>
<line x1="240.8" y1="381.2" x2="240.8" y2="383.2" stroke="#6a6a6a" stroke-width="1"/>
<text x="240.8" y="391.1" text-anchor="middle" font-family="'Liberation Serif', 'DejaVu Serif', serif" font-size="9.8" fill="#111" stroke="#111" stroke-width="0.35">0.5</text>
<line x1="266.9" y1="381.2" x2="266.9" y2="383.2" stroke="#6a6a6a" stroke-width="1"/>
<text x="266.9" y="391.1" text-anchor="middle" font-family="'Liberation Serif', 'DejaVu Serif', serif" font-size="9.8" fill="#111" stroke="#111" stroke-width="0.35">0.6</text>
<line x1="293.1" y1="381.2" x2="293.1" y2="383.2" stroke="#6a6a6a" stroke-width="1"/>
<text x="293.1" y="391.1" text-anchor="middle" font-family="'Liberation Serif', 'DejaVu Serif', serif" font-size="9.8" fill="#111" stroke="#111" stroke-width="0.35">0.7</text>
<line x1="319.3" y1="381.2" x2="319.3" y2="383.2" stroke="#6a6a6a" stroke-width="1"/>
<text x="319.3" y="391.1" text-anchor="middle" font-family="'Liberation Serif', 'DejaVu Serif', serif" font-size="9.8" fill="#111" stroke="#111" stroke-width="0.35">0.8</text>
<line x1="345.4" y1="381.2" x2="345.4" y2="383.2" stroke="#6a6a6a" stroke-width="1"/>
<text x="345.4" y="391.1" text-anchor="middle" font-family="'Liberation Serif', 'DejaVu Serif', serif" font-size="9.8" fill="#111" stroke="#111" stroke-width="0.35">0.9</text>
<line x1="371.6" y1="381.2" x2="371.6" y2="383.2" stroke="#6a6a6a" stroke-width="1"/>
<text x="371.6" y="391.1" text-anchor="middle" font-family="'Liberation Serif', 'DejaVu Serif', serif" font-size="9.8" fill="#111" stroke="#111" stroke-width="0.35">1.0</text>
<text transform="translate(196.72,355.12) rotate(-90)" x="0" y="0" font-family="'Liberation Serif', 'DejaVu Serif', serif" font-weight="bold" font-size="9.89" textLength="58.83" lengthAdjust="spacingAndGlyphs" fill="#111" >Depth (μm)</text>
<line x1="209.3" y1="428.8" x2="365.5" y2="428.8" stroke="#e9e9e9" stroke-width="1.3"/>
<line x1="209.3" y1="458.1" x2="365.5" y2="458.1" stroke="#e9e9e9" stroke-width="1.3"/>
<line x1="209.3" y1="487.5" x2="365.5" y2="487.5" stroke="#e9e9e9" stroke-width="1.3"/>
<path d="M209.1,442.7 211.1,442.7 213.1,442.7 215.1,442.7 217.1,442.6 219.1,442.6 221.1,442.6 223.1,442.6 225.1,442.6 227.1,442.6 229.1,442.5 231.1,442.5 233.1,442.5 235.1,442.5 237.1,442.5 239.1,442.5 241.1,442.5 243.1,442.4 245.1,442.4 247.1,442.4 249.1,442.4 251.1,442.4 253.1,442.4 255.1,442.3 257.1,442.3 259.1,442.3 261.1,442.3 263.1,442.3 265.1,442.3 267.1,442.2 269.1,442.2 271.1,442.2 273.1,442.1 273.6,442.1 274.1,442.0 274.6,442.0 275.1,442.0 275.6,441.9 276.1,441.9 276.6,441.8 277.1,441.7 277.6,441.7 278.1,441.6 278.6,441.4 279.1,441.3 279.6,441.1 280.1,441.0 280.6,440.7 281.1,440.5 281.6,440.2 282.1,439.8 282.6,439.4 283.1,438.9 283.6,438.4 284.1,438.1 284.6,438.1 285.1,438.7 285.6,440.1 286.1,442.0 286.6,444.2 287.1,446.5 287.6,448.7 288.1,450.8 288.6,452.7 289.1,454.5 289.6,456.0 290.1,457.4 290.6,458.6 291.1,459.6 291.6,460.3 292.1,460.6 292.6,460.7 293.1,460.2 293.6,459.2 294.1,457.6 294.6,455.5 295.1,452.8 295.6,449.6 296.1,446.1 296.6,442.5 297.1,439.3 297.6,436.9 298.1,435.9 298.6,436.0 299.1,436.9 299.6,437.9 300.1,438.8 300.6,439.6 301.1,440.2 301.6,440.6 302.1,440.9 302.6,441.2 303.1,441.4 303.6,441.5 304.1,441.6 304.6,441.7 305.1,441.8 305.6,441.8 306.1,441.8 306.6,441.9 307.1,441.9 307.6,441.9 308.1,441.9 308.6,441.9 309.1,441.9 309.6,441.9 311.1,441.9 313.1,441.9 315.1,441.9 317.1,441.9 319.1,441.9 321.1,441.8 323.1,441.8 325.1,441.8 327.1,441.8 329.1,441.8 331.1,441.8 333.1,441.7 335.1,441.7 337.1,441.7 339.1,441.7 341.1,441.7 343.1,441.7 345.1,441.7 347.1,441.6 349.1,441.6 351.1,441.6 353.1,441.6 355.1,441.6 357.1,441.6 359.1,441.5 361.1,441.5 363.1,441.5 365.1,441.5 365.6,441.5" fill="none" stroke="#262626" stroke-width="1.7" stroke-linejoin="round"/>
<path d="M209.1,442.3 211.1,442.3 213.1,442.3 215.1,442.3 217.1,442.3 219.1,442.3 221.1,442.3 223.1,442.3 225.1,442.3 227.1,442.3 229.1,442.3 231.1,442.3 233.1,442.2 235.1,442.2 237.1,442.2 239.1,442.2 241.1,442.2 243.1,442.2 245.1,442.2 247.1,442.2 249.1,442.1 251.1,442.1 253.1,442.0 255.1,442.0 257.1,441.9 259.1,441.8 261.1,441.6 263.1,441.4 265.1,441.1 267.1,440.7 269.1,440.1 271.1,439.3 272.1,438.8 272.6,438.5 273.1,438.2 273.6,437.9 274.1,437.5 274.6,437.1 275.1,436.7 275.6,436.3 276.1,435.8 276.6,435.2 277.1,434.7 277.6,434.0 278.1,433.4 278.6,432.6 279.1,431.9 279.6,431.0 280.1,430.1 280.6,429.1 281.1,428.0 281.6,426.8 282.1,425.6 282.6,424.5 283.1,423.8 283.6,424.1 284.1,425.8 284.6,428.9 285.1,433.2 285.6,438.0 286.1,442.9 286.6,447.8 287.1,452.5 287.6,457.1 288.1,461.5 288.6,465.6 289.1,469.5 289.6,473.0 290.1,476.2 290.6,478.9 291.1,481.1 291.6,482.8 292.1,483.9 292.6,484.2 293.1,483.8 293.6,482.6 294.1,480.6 294.6,477.8 295.1,474.4 295.6,470.4 296.1,465.9 296.6,461.0 297.1,455.8 297.6,450.3 298.1,444.6 298.6,438.8 299.1,433.4 299.6,428.7 300.1,425.6 300.6,424.3 301.1,424.4 301.6,425.4 302.1,426.7 302.6,428.0 303.1,429.3 303.6,430.4 304.1,431.4 304.6,432.3 305.1,433.2 305.6,433.9 306.1,434.7 306.6,435.3 307.1,435.9 307.6,436.4 308.1,436.9 308.6,437.4 309.1,437.8 309.6,438.2 310.1,438.5 310.6,438.8 311.1,439.1 311.6,439.4 312.1,439.6 313.1,440.0 315.1,440.6 317.1,441.1 319.1,441.4 321.1,441.6 323.1,441.7 325.1,441.8 327.1,441.9 329.1,442.0 331.1,442.0 333.1,442.0 335.1,442.0 337.1,442.0 339.1,442.0 341.1,442.0 343.1,442.0 345.1,442.0 347.1,442.0 349.1,442.0 351.1,442.0 353.1,442.0 355.1,442.0 357.1,442.0 359.1,442.0 361.1,442.0 363.1,442.0 365.1,442.0 365.6,442.0" fill="none" stroke="#ff1a1a" stroke-width="1.7" stroke-linejoin="round"/>
<path d="M209.1,442.3 211.1,442.3 213.1,442.3 215.1,442.3 217.1,442.3 219.1,442.3 221.1,442.3 223.1,442.3 225.1,442.3 227.1,442.3 229.1,442.2 231.1,442.2 233.1,442.2 235.1,442.2 237.1,442.2 239.1,442.2 241.1,442.2 243.1,442.1 245.1,442.1 247.1,442.1 249.1,442.0 251.1,441.9 253.1,441.9 255.1,441.7 257.1,441.6 259.1,441.3 261.1,441.1 263.1,440.7 265.1,440.2 267.1,439.5 269.1,438.6 270.1,438.1 270.6,437.8 271.1,437.4 271.6,437.1 272.1,436.7 272.6,436.3 273.1,435.9 273.6,435.4 274.1,434.9 274.6,434.3 275.1,433.8 275.6,433.1 276.1,432.5 276.6,431.7 277.1,431.0 277.6,430.1 278.1,429.2 278.6,428.3 279.1,427.3 279.6,426.2 280.1,425.1 280.6,424.3 281.1,424.3 281.6,425.7 282.1,428.9 282.6,433.7 283.1,439.6 283.6,445.9 284.1,452.2 284.6,458.5 285.1,464.6 285.6,470.4 286.1,475.8 286.6,480.7 287.1,484.9 287.6,488.2 288.1,490.6 288.6,492.0 289.1,492.9 289.6,493.3 290.1,493.5 290.6,493.7 291.1,493.9 291.6,494.0 292.1,494.2 292.6,494.3 293.1,494.5 293.6,494.5 294.1,494.3 294.6,493.5 295.1,492.1 295.6,489.8 296.1,486.6 296.6,482.6 297.1,478.1 297.6,473.1 298.1,467.8 298.6,462.2 299.1,456.4 299.6,450.4 300.1,444.4 300.6,438.3 301.1,432.5 301.6,427.4 302.1,423.5 302.6,421.4 303.1,421.0 303.6,421.7 304.1,423.0 304.6,424.3 305.1,425.6 305.6,426.8 306.1,428.0 306.6,429.0 307.1,430.0 307.6,430.9 308.1,431.7 308.6,432.5 309.1,433.2 309.6,433.9 310.1,434.5 310.6,435.0 311.1,435.6 311.6,436.0 312.1,436.5 312.6,436.9 313.1,437.3 313.6,437.6 314.1,438.0 315.1,438.6 317.1,439.5 319.1,440.2 321.1,440.7 323.1,441.0 325.1,441.3 327.1,441.5 329.1,441.7 331.1,441.8 333.1,441.8 335.1,441.9 337.1,441.9 339.1,442.0 341.1,442.0 343.1,442.0 345.1,442.0 347.1,442.0 349.1,442.0 351.1,442.0 353.1,442.0 355.1,442.0 357.1,442.0 359.1,442.0 361.1,442.0 363.1,442.0 365.1,442.0 365.6,442.0" fill="none" stroke="#1a1aff" stroke-width="1.7" stroke-linejoin="round"/>
<line x1="297.3" y1="482.0" x2="320.0" y2="482.0" stroke="#262626" stroke-width="1.6"/>
<text x="322.80" y="485.30" font-family="'Liberation Serif', 'DejaVu Serif', serif" font-weight="bold" font-size="9.8" textLength="41.70" lengthAdjust="spacingAndGlyphs" fill="#151515" >Position 1</text>
<line x1="297.3" y1="495.9" x2="320.0" y2="495.9" stroke="#ff1a1a" stroke-width="1.6"/>
<text x="322.80" y="499.20" font-family="'Liberation Serif', 'DejaVu Serif', serif" font-weight="bold" font-size="9.8" textLength="41.60" lengthAdjust="spacingAndGlyphs" fill="#151515" >Position 2</text>
<line x1="297.3" y1="509.4" x2="320.0" y2="509.4" stroke="#1a1aff" stroke-width="1.6"/>
<text x="322.80" y="512.80" font-family="'Liberation Serif', 'DejaVu Serif', serif" font-weight="bold" font-size="9.8" textLength="41.50" lengthAdjust="spacingAndGlyphs" fill="#151515" >Position 3</text>
<text x="336.40" y="416.60" font-family="'Liberation Serif', 'DejaVu Serif', serif" font-weight="normal" font-size="14.5" textLength="28.94" lengthAdjust="spacingAndGlyphs" fill="#111" stroke="#111" stroke-width="0.3">AM4</text>
<rect x="208.3" y="399.4" width="158.2" height="117.5" fill="none" stroke="#6a6a6a" stroke-width="1.2"/>
<line x1="205.8" y1="414.1" x2="208.3" y2="414.1" stroke="#6a6a6a" stroke-width="1"/>
<line x1="366.5" y1="414.1" x2="369.0" y2="414.1" stroke="#6a6a6a" stroke-width="1"/>
<text x="205.0" y="417.3" text-anchor="end" font-family="'Liberation Serif', 'DejaVu Serif', serif" font-size="9.4" fill="#111" stroke="#111" stroke-width="0.35">1</text>
<text x="369.5" y="417.7" font-family="'Liberation Serif', 'DejaVu Serif', serif" font-size="10.5" fill="#111" stroke="#111" stroke-width="0.2">1</text>
<line x1="205.8" y1="443.5" x2="208.3" y2="443.5" stroke="#6a6a6a" stroke-width="1"/>
<line x1="366.5" y1="443.5" x2="369.0" y2="443.5" stroke="#6a6a6a" stroke-width="1"/>
<text x="205.0" y="446.7" text-anchor="end" font-family="'Liberation Serif', 'DejaVu Serif', serif" font-size="9.4" fill="#111" stroke="#111" stroke-width="0.35">0</text>
<text x="369.5" y="447.0" font-family="'Liberation Serif', 'DejaVu Serif', serif" font-size="10.5" fill="#111" stroke="#111" stroke-width="0.2">0</text>
<line x1="205.8" y1="472.8" x2="208.3" y2="472.8" stroke="#6a6a6a" stroke-width="1"/>
<line x1="366.5" y1="472.8" x2="369.0" y2="472.8" stroke="#6a6a6a" stroke-width="1"/>
<text x="205.0" y="476.0" text-anchor="end" font-family="'Liberation Serif', 'DejaVu Serif', serif" font-size="9.4" fill="#111" stroke="#111" stroke-width="0.35">-1</text>
<text x="369.5" y="476.4" font-family="'Liberation Serif', 'DejaVu Serif', serif" font-size="10.5" fill="#111" stroke="#111" stroke-width="0.2">-1</text>
<line x1="205.8" y1="502.2" x2="208.3" y2="502.2" stroke="#6a6a6a" stroke-width="1"/>
<line x1="366.5" y1="502.2" x2="369.0" y2="502.2" stroke="#6a6a6a" stroke-width="1"/>
<text x="205.0" y="505.4" text-anchor="end" font-family="'Liberation Serif', 'DejaVu Serif', serif" font-size="9.4" fill="#111" stroke="#111" stroke-width="0.35">-2</text>
<text x="369.5" y="505.8" font-family="'Liberation Serif', 'DejaVu Serif', serif" font-size="10.5" fill="#111" stroke="#111" stroke-width="0.2">-2</text>
<line x1="206.8" y1="399.4" x2="208.3" y2="399.4" stroke="#6a6a6a" stroke-width="1"/>
<line x1="366.5" y1="399.4" x2="368.0" y2="399.4" stroke="#6a6a6a" stroke-width="1"/>
<line x1="206.8" y1="428.8" x2="208.3" y2="428.8" stroke="#6a6a6a" stroke-width="1"/>
<line x1="366.5" y1="428.8" x2="368.0" y2="428.8" stroke="#6a6a6a" stroke-width="1"/>
<line x1="206.8" y1="458.1" x2="208.3" y2="458.1" stroke="#6a6a6a" stroke-width="1"/>
<line x1="366.5" y1="458.1" x2="368.0" y2="458.1" stroke="#6a6a6a" stroke-width="1"/>
<line x1="206.8" y1="487.5" x2="208.3" y2="487.5" stroke="#6a6a6a" stroke-width="1"/>
<line x1="366.5" y1="487.5" x2="368.0" y2="487.5" stroke="#6a6a6a" stroke-width="1"/>
<line x1="206.8" y1="516.9" x2="208.3" y2="516.9" stroke="#6a6a6a" stroke-width="1"/>
<line x1="366.5" y1="516.9" x2="368.0" y2="516.9" stroke="#6a6a6a" stroke-width="1"/>
<line x1="221.5" y1="516.9" x2="221.5" y2="518.4" stroke="#6a6a6a" stroke-width="1"/>
<line x1="247.9" y1="516.9" x2="247.9" y2="518.4" stroke="#6a6a6a" stroke-width="1"/>
<line x1="274.2" y1="516.9" x2="274.2" y2="518.4" stroke="#6a6a6a" stroke-width="1"/>
<line x1="300.6" y1="516.9" x2="300.6" y2="518.4" stroke="#6a6a6a" stroke-width="1"/>
<line x1="327.0" y1="516.9" x2="327.0" y2="518.4" stroke="#6a6a6a" stroke-width="1"/>
<line x1="353.3" y1="516.9" x2="353.3" y2="518.4" stroke="#6a6a6a" stroke-width="1"/>
<line x1="208.3" y1="516.9" x2="208.3" y2="518.9" stroke="#6a6a6a" stroke-width="1"/>
<text x="208.3" y="526.8" text-anchor="middle" font-family="'Liberation Serif', 'DejaVu Serif', serif" font-size="9.8" fill="#111" stroke="#111" stroke-width="0.35">0.4</text>
<line x1="234.7" y1="516.9" x2="234.7" y2="518.9" stroke="#6a6a6a" stroke-width="1"/>
<text x="234.7" y="526.8" text-anchor="middle" font-family="'Liberation Serif', 'DejaVu Serif', serif" font-size="9.8" fill="#111" stroke="#111" stroke-width="0.35">0.5</text>
<line x1="261.0" y1="516.9" x2="261.0" y2="518.9" stroke="#6a6a6a" stroke-width="1"/>
<text x="261.0" y="526.8" text-anchor="middle" font-family="'Liberation Serif', 'DejaVu Serif', serif" font-size="9.8" fill="#111" stroke="#111" stroke-width="0.35">0.6</text>
<line x1="287.4" y1="516.9" x2="287.4" y2="518.9" stroke="#6a6a6a" stroke-width="1"/>
<text x="287.4" y="526.8" text-anchor="middle" font-family="'Liberation Serif', 'DejaVu Serif', serif" font-size="9.8" fill="#111" stroke="#111" stroke-width="0.35">0.7</text>
<line x1="313.8" y1="516.9" x2="313.8" y2="518.9" stroke="#6a6a6a" stroke-width="1"/>
<text x="313.8" y="526.8" text-anchor="middle" font-family="'Liberation Serif', 'DejaVu Serif', serif" font-size="9.8" fill="#111" stroke="#111" stroke-width="0.35">0.8</text>
<line x1="340.1" y1="516.9" x2="340.1" y2="518.9" stroke="#6a6a6a" stroke-width="1"/>
<text x="340.1" y="526.8" text-anchor="middle" font-family="'Liberation Serif', 'DejaVu Serif', serif" font-size="9.8" fill="#111" stroke="#111" stroke-width="0.35">0.9</text>
<line x1="366.5" y1="516.9" x2="366.5" y2="518.9" stroke="#6a6a6a" stroke-width="1"/>
<text x="366.5" y="526.8" text-anchor="middle" font-family="'Liberation Serif', 'DejaVu Serif', serif" font-size="9.8" fill="#111" stroke="#111" stroke-width="0.35">1.0</text>
<text transform="translate(192.25,493.12) rotate(-90)" x="0" y="0" font-family="'Liberation Serif', 'DejaVu Serif', serif" font-weight="bold" font-size="9.78" textLength="60.05" lengthAdjust="spacingAndGlyphs" fill="#111" >Depth (μm)</text>
<line x1="93.2" y1="163.3" x2="217.5" y2="131.5" stroke="#2ea6dc" stroke-width="1.2"/>
<line x1="86.5" y1="232.2" x2="217.5" y2="242.3" stroke="#2ea6dc" stroke-width="1.2"/>
<text x="255.18" y="542.90" font-family="'Liberation Serif', 'DejaVu Serif', serif" font-weight="bold" font-size="13.3" textLength="65.86" lengthAdjust="spacingAndGlyphs" fill="#111" >Width (mm)</text>
</svg>
</body></html>
